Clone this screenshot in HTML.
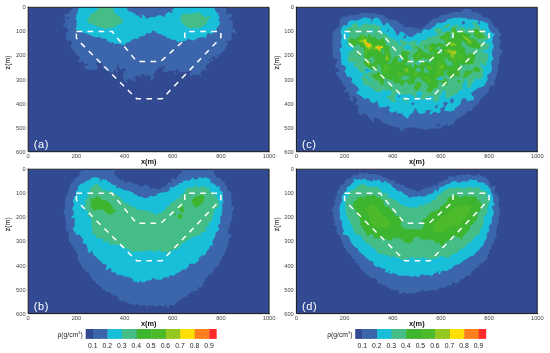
<!DOCTYPE html>
<html lang="en"><head><meta charset="utf-8"><title>Density inversion results</title>
<style>html,body{margin:0;padding:0;background:#fff;}body{width:550px;height:353px;overflow:hidden;}svg{display:block;}</style></head>
<body>
<svg width="550" height="353" viewBox="0 0 550 353" font-family="'Liberation Sans', sans-serif">
<rect width="550" height="353" fill="#ffffff"/>
<defs>
<clipPath id="cpa"><rect x="28.2" y="7.3" width="240.9" height="144.4"/></clipPath>
<clipPath id="cpc"><rect x="296.4" y="7.3" width="240.9" height="144.4"/></clipPath>
<clipPath id="cpb"><rect x="28.2" y="169.2" width="240.9" height="144.4"/></clipPath>
<clipPath id="cpd"><rect x="296.4" y="169.2" width="240.9" height="144.4"/></clipPath>
</defs>
<g clip-path="url(#cpa)">
<rect x="28.2" y="7.3" width="240.9" height="144.4" fill="#324a92"/>
<path fill="#3b66ab" fill-rule="evenodd" d="M189.2 5.3L187.8 5.3L223.4 5.3L227.9 5.3L226.6 5.3L225.2 5.3L226.5 5.3L226.0 5.3L225.6 5.3L225.4 5.3L225.9 5.3L226.4 5.5L226.3 6.8L226.8 7.8L226.6 9.3L226.0 10.8L226.8 12.2L226.9 12.6L226.9 13.0L225.9 13.8L225.3 14.7L225.3 14.8L225.3 14.9L225.4 14.8L227.2 14.5L227.5 14.7L227.6 14.3L229.4 13.7L230.6 13.5L232.9 14.6L231.8 16.6L231.7 16.9L229.6 19.0L228.6 19.3L229.6 20.4L230.7 20.4L233.0 20.0L232.6 21.3L232.6 24.0L232.6 24.1L232.7 24.2L233.1 25.8L232.5 27.4L232.0 28.0L231.8 29.1L232.9 28.6L234.9 29.0L235.3 30.2L236.2 32.2L236.4 33.0L236.1 33.2L235.6 33.4L234.4 33.1L233.0 32.5L232.1 31.5L230.5 32.9L232.3 34.2L232.2 34.8L232.1 35.2L231.3 37.0L231.7 38.5L231.7 39.4L231.8 40.2L230.6 40.1L229.3 40.8L228.4 40.8L227.6 41.1L226.1 42.1L227.4 42.8L227.7 44.4L227.1 45.6L225.6 46.2L225.8 48.5L225.8 48.6L225.7 48.6L224.3 49.3L224.1 50.3L223.2 51.6L221.5 52.7L221.6 54.2L220.1 54.1L219.6 54.6L217.1 55.8L216.8 55.8L216.2 55.9L216.6 56.6L217.1 56.2L219.2 55.8L218.6 57.3L218.4 57.6L218.0 57.8L215.8 58.5L215.5 58.5L214.9 57.9L214.6 56.0L212.6 56.2L211.2 57.7L210.7 57.5L210.8 58.2L209.3 59.4L207.6 59.5L209.0 60.5L210.4 61.7L210.9 59.9L211.2 58.5L212.7 58.4L213.0 59.7L212.3 60.5L210.6 62.0L210.6 62.1L210.4 62.2L208.6 63.1L207.2 64.4L206.7 64.9L205.5 66.6L205.4 67.3L206.0 69.0L206.2 70.7L207.7 70.0L208.3 70.2L208.3 70.6L208.0 70.7L206.1 71.0L205.8 71.5L205.8 70.9L203.8 70.0L201.8 68.7L201.6 71.3L201.0 72.6L199.7 73.3L201.2 74.8L201.6 75.9L200.9 76.4L200.3 76.5L199.6 75.9L198.5 74.0L197.4 75.0L195.1 75.3L193.7 73.8L192.2 75.4L192.0 75.4L191.8 75.4L190.4 75.7L189.8 75.6L189.8 75.0L189.8 74.6L190.5 73.1L190.6 72.5L191.6 71.7L190.3 71.1L189.4 70.8L188.4 71.4L187.3 71.6L186.7 72.2L185.7 72.4L183.7 72.1L182.7 71.7L182.7 71.4L182.3 71.4L182.4 71.7L180.8 72.5L179.5 71.9L178.8 71.2L178.2 69.5L176.2 69.7L175.4 70.4L174.0 70.8L172.4 70.9L172.3 71.0L169.2 70.7L168.3 70.7L167.9 71.7L167.2 72.0L166.6 72.0L164.4 71.8L163.3 71.9L162.6 71.0L163.0 69.6L164.2 69.0L164.5 67.7L165.4 66.2L163.7 65.5L163.2 65.5L162.7 66.1L162.6 68.4L161.5 67.0L159.1 66.8L158.2 68.5L157.6 69.4L155.9 70.9L154.9 68.6L155.4 71.4L155.0 72.6L154.5 74.0L154.5 74.3L153.4 74.8L153.1 74.9L151.1 76.3L148.2 75.4L145.6 76.0L145.4 76.0L145.2 75.9L143.7 74.0L142.3 73.5L141.0 75.7L141.5 76.9L139.5 76.4L138.6 74.9L138.9 74.2L138.5 74.9L136.0 76.4L133.1 76.1L133.1 76.0L133.1 76.1L134.5 77.5L135.4 79.0L135.7 80.0L135.4 81.6L134.0 81.3L132.9 80.4L132.7 79.8L132.0 79.4L130.8 79.3L129.8 79.2L128.0 79.1L127.0 79.5L126.0 80.1L126.9 81.0L127.8 81.9L126.1 82.4L125.6 82.6L124.7 81.8L124.0 80.1L123.7 79.8L123.4 78.1L123.3 77.7L123.2 77.0L123.2 75.4L123.4 73.5L123.4 73.3L123.5 73.1L124.6 71.3L124.5 70.9L125.0 70.9L126.4 69.6L126.8 69.3L126.3 69.1L126.1 69.0L123.9 68.2L122.5 67.2L122.9 68.8L121.7 69.9L121.1 69.7L119.9 69.3L119.3 67.1L116.9 67.0L118.6 65.0L119.3 64.7L118.0 64.3L117.8 64.1L117.2 64.3L116.8 67.0L116.8 67.1L116.2 69.3L115.7 69.4L114.0 70.6L113.8 71.5L112.8 72.7L111.2 72.8L109.7 72.1L109.5 71.5L108.6 71.5L107.0 69.7L106.2 71.2L105.2 70.0L103.8 68.9L102.8 67.6L101.9 66.6L102.8 65.2L103.0 64.4L101.8 63.0L99.9 63.6L99.0 63.2L96.5 62.9L95.9 64.3L97.7 65.3L97.4 66.2L97.4 68.5L96.8 69.5L95.7 70.6L94.8 69.8L92.7 70.0L91.6 70.1L89.6 69.6L89.4 69.6L87.0 69.5L86.5 69.8L85.7 68.9L85.1 68.4L84.2 66.8L84.4 65.5L86.6 65.1L87.7 65.9L88.2 64.6L87.6 63.7L86.6 64.0L84.7 64.1L83.6 62.2L83.3 61.6L82.6 61.4L81.8 61.8L80.8 61.9L80.5 61.7L78.3 62.1L78.1 62.2L77.9 61.8L78.1 61.7L79.3 59.3L79.2 59.1L80.1 58.2L79.0 55.9L77.5 55.4L77.1 55.1L76.2 54.0L75.3 53.4L75.7 52.9L74.1 51.4L73.5 50.9L73.6 49.8L72.2 49.6L71.4 48.5L70.8 46.8L70.6 46.2L70.7 45.6L71.8 43.9L72.3 42.6L73.8 41.9L74.1 41.7L74.1 41.6L74.0 41.5L73.9 41.4L72.1 41.7L71.7 41.6L70.4 40.7L68.5 40.3L66.7 42.1L67.4 39.6L66.0 38.4L65.7 37.3L65.8 35.9L66.6 34.7L65.9 33.2L65.2 32.4L65.9 32.5L66.5 32.2L68.0 32.1L68.2 30.7L67.9 30.3L66.9 28.6L66.9 28.5L66.0 27.6L64.5 27.3L64.5 26.2L63.4 25.6L62.8 24.1L63.7 23.5L65.3 22.3L65.1 24.4L65.1 26.0L66.3 24.8L66.2 24.3L65.7 22.1L65.8 21.9L65.6 21.9L64.5 19.3L64.4 19.1L64.3 19.0L64.4 19.0L64.5 18.4L64.7 17.2L67.6 18.4L68.4 19.7L68.5 17.6L68.6 16.8L67.3 16.7L64.7 17.1L64.7 14.7L66.0 14.0L66.8 14.0L68.5 13.5L69.0 12.5L69.9 11.0L71.3 10.2L71.5 10.0L71.7 9.7L73.3 7.8L73.6 7.6L73.4 7.2L72.5 6.9L71.0 6.6L68.6 5.9L68.5 5.9L68.5 5.7L68.6 5.8L71.0 5.4L71.9 5.3L71.6 5.3L70.9 5.3L72.4 5.3L72.8 5.3L70.8 5.3L68.1 5.3L67.6 5.3L81.8 5.3L115.2 5.3ZM201.1 64.9L201.4 64.6L201.3 64.2L200.8 64.5L200.6 64.6L200.7 65.4ZM126.2 73.6L126.4 73.5L126.2 73.3L125.4 72.3L125.0 73.4L126.1 73.5ZM176.1 72.8L176.4 73.6L175.9 74.2L175.2 74.9L173.8 72.9L174.7 72.1ZM151.1 76.3L153.1 75.0L154.0 77.9L152.9 78.7L151.2 80.5L150.4 77.9ZM223.2 7.4L222.8 5.5L222.6 5.4L222.5 5.4L222.5 5.5L223.1 7.4L223.2 7.5ZM117.1 75.3L116.7 74.3L117.4 75.0L117.5 75.3L117.6 76.3L117.2 75.4ZM117.9 70.1L118.2 70.7L118.1 71.6L116.5 73.2L115.9 71.2L116.4 69.5ZM195.5 71.0L195.4 71.3L193.9 71.7L194.5 72.1L195.5 72.0L195.8 71.6Z"/>
<path fill="#19bfd9" fill-rule="evenodd" d="M146.1 5.3L144.6 5.3L129.6 5.3L127.6 5.3L126.4 5.3L126.8 5.3L127.0 5.3L126.4 5.3L126.5 5.6L126.5 6.0L127.1 8.0L127.0 8.6L127.9 10.6L128.6 11.2L129.3 11.4L131.4 11.4L132.0 12.4L132.4 12.9L133.4 12.9L135.3 13.4L135.8 15.4L135.2 16.5L135.2 16.6L135.3 16.6L135.4 16.6L136.2 15.6L139.1 15.5L139.9 16.9L139.8 18.0L141.6 18.0L142.1 17.0L142.0 15.4L141.5 15.0L141.7 14.6L142.5 14.2L142.5 14.9L144.1 15.5L145.1 16.0L145.0 17.3L145.8 18.3L146.9 18.5L147.9 18.2L148.8 18.0L150.5 17.0L150.8 17.1L153.2 17.1L154.1 17.3L154.9 16.9L155.7 16.8L156.4 16.2L157.5 15.3L159.8 15.2L160.3 15.5L162.2 15.6L163.3 17.3L163.8 17.5L164.0 17.3L164.1 17.3L164.8 15.8L164.9 15.4L166.8 13.0L167.9 12.8L168.4 11.8L169.5 11.8L170.0 12.5L171.5 12.9L172.3 12.7L172.4 12.0L172.3 10.2L171.9 9.9L172.3 9.4L173.8 8.5L174.5 7.9L174.6 7.9L176.3 5.8L176.5 5.6L176.3 5.3L175.4 5.3L175.8 5.3L174.4 5.3L175.6 5.3L176.1 5.3L177.4 5.3L173.5 5.3L207.6 5.3L215.6 5.3L215.4 5.3L215.2 5.3L214.0 5.3L214.3 5.3L214.3 5.7L214.6 5.9L214.7 8.4L214.8 9.9L215.4 10.6L216.0 11.8L216.4 12.3L218.5 13.6L218.3 14.5L218.7 16.6L220.3 17.1L218.9 18.7L218.6 19.5L218.9 21.2L219.9 21.8L220.1 24.0L220.1 24.1L219.4 24.8L218.4 26.0L216.5 28.1L216.4 28.3L216.4 28.7L216.6 30.4L216.2 30.9L215.0 31.1L214.8 30.2L213.6 29.9L213.1 29.9L213.0 30.4L213.3 31.8L212.7 33.3L212.7 33.8L212.0 34.2L210.0 33.9L208.9 32.9L207.4 33.6L206.5 35.5L206.2 37.7L204.7 37.5L204.6 37.5L201.7 37.3L201.0 37.5L199.6 37.4L198.9 37.9L198.4 37.8L196.7 38.4L196.0 39.2L195.7 39.5L195.4 39.4L193.1 40.5L192.2 40.6L191.5 39.9L190.6 39.7L188.1 39.1L188.6 38.0L187.7 39.0L187.5 39.2L185.6 41.0L183.5 41.1L182.8 41.4L180.3 41.2L179.9 41.1L179.8 41.3L179.1 42.3L177.8 42.7L177.1 41.7L176.8 41.0L174.7 39.8L173.7 39.6L172.1 40.3L172.0 40.2L169.7 38.3L168.3 38.3L167.0 38.2L166.4 37.2L165.9 36.2L164.6 35.8L163.8 36.1L161.9 34.6L161.5 34.3L161.1 34.3L159.6 34.0L157.3 33.3L157.0 33.3L156.8 33.1L155.4 31.4L154.8 31.0L153.5 30.7L153.1 30.4L152.2 30.8L151.4 32.0L151.3 32.5L150.1 33.7L149.4 33.5L147.5 32.9L147.4 32.7L147.2 32.9L146.7 33.0L145.5 34.5L145.3 35.3L143.5 36.0L141.9 36.2L140.6 36.3L139.9 36.4L139.3 36.7L138.7 37.0L138.4 38.9L135.5 38.4L134.3 38.7L132.6 39.5L132.5 39.4L132.2 39.5L131.0 40.7L130.1 41.7L128.9 42.0L128.2 42.4L126.6 42.4L125.7 44.1L124.8 44.7L123.8 44.8L122.2 44.8L121.1 45.1L120.6 44.1L119.6 44.0L119.0 43.9L117.2 43.4L116.2 43.1L115.1 44.2L115.0 44.4L114.9 44.3L114.2 44.1L114.1 43.5L112.9 42.1L112.8 42.0L112.6 41.9L112.3 41.9L111.7 42.9L110.4 42.3L108.4 41.5L107.6 41.5L106.8 39.3L106.5 39.0L105.0 38.4L103.0 38.5L101.8 38.9L100.0 36.8L99.9 36.6L99.7 36.6L97.4 37.4L97.3 37.4L95.0 37.3L94.6 37.0L93.0 36.2L92.1 35.9L91.3 35.6L90.2 35.2L89.6 34.8L89.1 34.6L88.3 34.1L86.9 33.7L84.3 33.2L84.0 33.2L82.0 32.1L81.1 31.5L79.8 32.1L78.5 30.6L78.1 29.7L77.2 30.0L75.9 29.9L75.6 28.5L76.1 27.7L76.8 26.3L76.5 24.7L76.3 23.5L76.8 22.6L76.9 21.4L76.5 20.4L75.8 19.3L75.8 17.6L76.9 16.6L75.9 15.5L75.8 15.1L76.2 14.9L77.9 12.6L77.7 12.1L77.8 10.3L78.6 8.5L78.8 8.0L80.2 6.9L81.0 6.0L80.4 5.3L80.3 5.3L80.5 5.3L80.0 5.3L79.2 5.3L81.0 5.3L81.2 5.3L81.0 5.3L80.8 5.3L81.8 5.3L115.2 5.3ZM142.1 33.1L142.0 33.0L141.9 33.2L141.5 34.0L142.2 33.6L142.9 33.1Z"/>
<path fill="#44bd86" fill-rule="evenodd" d="M93.2 12.9L93.7 12.6L95.0 12.2L95.8 11.4L96.4 10.6L97.0 9.5L97.9 8.7L98.7 7.9L98.9 7.5L99.0 6.9L99.3 5.9L99.4 5.3L99.8 5.3L99.9 5.3L98.4 5.3L98.1 5.3L106.8 5.3L108.1 5.3L112.3 5.3L112.8 5.3L113.1 5.3L113.0 5.3L112.9 5.3L112.6 6.3L112.9 7.9L112.8 8.6L113.3 9.5L113.8 9.9L114.0 12.0L114.1 12.4L114.3 12.6L116.1 14.2L117.5 15.2L118.4 15.9L120.2 17.0L120.3 17.2L120.4 17.2L121.2 19.0L121.4 19.3L122.9 20.8L123.2 21.2L122.8 22.0L121.7 23.5L121.4 24.1L120.4 24.5L117.8 23.9L117.2 25.8L117.1 25.9L117.0 25.9L114.7 26.9L113.9 27.2L111.8 28.1L110.9 28.3L110.5 28.2L108.5 28.0L107.9 28.5L105.6 29.2L104.7 28.8L103.1 28.3L102.9 28.0L102.6 28.1L101.3 26.9L98.9 27.0L98.1 27.0L96.7 26.3L96.4 26.1L96.0 25.8L94.2 24.8L92.7 24.6L91.8 24.4L91.0 23.9L90.5 23.7L90.1 23.6L88.0 22.8L88.0 21.8L87.0 19.4L86.9 19.1L87.0 19.0L87.2 18.9L89.1 18.7L89.1 16.9L90.4 14.9L91.0 14.5L91.1 13.5ZM199.1 12.7L199.8 13.1L199.9 13.1L200.0 13.2L201.5 14.3L201.8 14.8L203.9 16.0L204.6 16.8L204.9 17.6L205.6 17.4L205.8 16.9L208.0 16.6L209.5 16.1L210.1 16.2L210.2 16.3L210.3 16.5L210.3 16.8L209.9 17.6L209.1 18.8L208.5 19.5L207.4 20.8L206.4 22.0L207.0 24.1L207.4 24.1L207.0 24.3L207.0 24.4L206.8 24.5L204.5 24.4L203.5 26.5L202.9 26.7L202.3 27.0L201.3 26.8L199.6 27.9L199.5 28.0L199.3 28.0L196.4 28.6L195.9 29.0L195.8 28.5L194.7 28.0L192.8 27.2L192.3 28.6L191.8 28.7L191.3 29.0L190.8 28.5L188.7 27.7L188.0 27.4L186.7 26.9L185.0 26.0L185.1 24.9L184.0 25.2L183.1 24.3L182.5 23.7L181.5 22.0L181.3 21.5L180.8 19.7L180.4 19.0L180.7 18.4L180.6 17.3L181.1 15.6L182.0 14.9L182.7 13.9L183.7 14.6L185.4 13.8L186.7 13.5L188.7 13.7L189.3 13.8L191.2 14.6L191.8 14.2L193.2 13.2L195.5 12.7L196.1 12.7L197.9 12.2Z"/>
</g>
<polygon points="76.4,31.4 112.5,31.4 113.0,32.8 136.6,61.4 160.7,61.4 184.8,39.8 184.8,31.4 220.9,31.4 220.9,37.6 162.1,98.8 136.6,98.8 77.1,39.3 76.4,37.6" fill="none" stroke="#ffffff" stroke-width="1.5" stroke-dasharray="5.65 5.42" stroke-linejoin="round"/>
<path d="M28.2 6.8 V151.7 H269.6" fill="none" stroke="#111" stroke-width="1"/>
<path d="M27.7 7.3 H269.1 V152.2" fill="none" stroke="#111" stroke-width="0.9"/>
<text x="25.6" y="9.3" font-size="5.7" fill="#444" text-anchor="end">0</text>
<text x="25.6" y="33.4" font-size="5.7" fill="#444" text-anchor="end">100</text>
<text x="25.6" y="57.4" font-size="5.7" fill="#444" text-anchor="end">200</text>
<text x="25.6" y="81.5" font-size="5.7" fill="#444" text-anchor="end">300</text>
<text x="25.6" y="105.6" font-size="5.7" fill="#444" text-anchor="end">400</text>
<text x="25.6" y="129.6" font-size="5.7" fill="#444" text-anchor="end">500</text>
<text x="25.6" y="153.7" font-size="5.7" fill="#444" text-anchor="end">600</text>
<text x="28.2" y="158.3" font-size="5.7" fill="#444" text-anchor="middle">0</text>
<text x="76.4" y="158.3" font-size="5.7" fill="#444" text-anchor="middle">200</text>
<text x="124.6" y="158.3" font-size="5.7" fill="#444" text-anchor="middle">400</text>
<text x="172.7" y="158.3" font-size="5.7" fill="#444" text-anchor="middle">600</text>
<text x="220.9" y="158.3" font-size="5.7" fill="#444" text-anchor="middle">800</text>
<text x="269.1" y="158.3" font-size="5.7" fill="#444" text-anchor="middle">1000</text>
<text x="148.7" y="164.2" font-size="7.4" font-weight="bold" fill="#111" text-anchor="middle">x(m)</text>
<text transform="translate(10.3 62.3) rotate(-90)" font-size="6.7" fill="#1a1a1a" stroke="#1a1a1a" stroke-width="0.12" letter-spacing="0.2" text-anchor="middle">z(m)</text>
<text x="33.8" y="147.8" font-size="11.0" fill="#ffffff" letter-spacing="0.55">(a)</text>
<g clip-path="url(#cpc)">
<rect x="296.4" y="7.3" width="240.9" height="144.4" fill="#324a92"/>
<path fill="#3b66ab" fill-rule="evenodd" d="M394.5 19.8L397.1 20.9L399.3 23.0L399.4 23.0L403.6 24.4L403.6 26.5L405.4 26.9L406.3 27.3L410.4 26.8L411.0 26.7L413.5 27.7L414.1 27.8L417.5 27.9L419.4 29.3L420.4 29.2L423.5 26.8L425.4 26.0L425.5 25.8L426.5 24.7L428.3 23.0L428.6 22.8L431.9 20.0L433.1 18.7L436.0 18.3L437.4 18.2L440.4 15.5L441.6 14.3L442.1 14.5L444.3 15.1L448.5 13.6L449.1 13.3L451.8 12.8L452.2 12.6L455.2 11.5L455.9 11.7L461.1 12.0L461.4 12.0L462.7 11.3L462.6 10.7L463.4 9.6L463.9 9.5L465.2 8.6L466.5 8.9L470.2 8.9L470.7 8.8L471.9 10.7L470.9 11.7L472.5 11.8L472.9 11.8L477.0 12.3L478.4 13.4L480.2 14.0L481.6 16.1L483.0 16.9L483.6 17.3L486.9 17.2L488.9 19.3L490.4 19.6L492.4 23.5L493.1 23.1L492.9 24.0L494.3 26.5L498.4 29.0L499.2 31.2L499.8 32.5L501.4 35.1L499.2 37.4L498.5 37.9L499.4 40.5L501.0 39.6L501.8 38.7L501.9 39.8L501.9 40.3L501.8 40.6L500.5 42.8L499.9 43.6L499.4 45.9L499.1 47.8L499.1 48.2L498.8 48.7L499.6 48.9L502.2 49.2L502.2 52.8L500.8 54.2L499.8 56.1L499.5 57.7L499.4 60.3L499.1 60.9L499.4 61.8L499.6 63.0L499.4 63.6L497.8 65.8L498.1 69.6L498.2 70.5L496.8 74.2L496.5 74.7L496.0 76.3L495.9 77.8L495.0 79.2L494.0 80.8L494.6 82.1L495.1 83.8L494.1 85.4L492.6 85.7L489.8 87.1L489.0 88.4L489.0 91.1L488.7 91.5L486.5 94.2L483.3 96.6L482.8 96.9L482.6 97.0L481.8 98.5L480.8 99.0L479.3 101.7L479.3 103.1L476.2 105.4L473.7 107.5L473.0 107.8L472.0 110.5L472.0 111.0L471.5 111.0L468.0 110.6L465.9 113.6L465.3 114.3L463.9 115.1L461.8 116.3L457.9 118.8L457.5 119.0L457.2 119.1L454.9 119.6L455.5 120.4L454.3 123.5L451.9 124.6L450.0 125.1L448.1 126.4L447.6 125.3L448.0 124.0L446.5 124.9L444.3 125.4L443.5 125.8L442.7 126.0L440.2 128.5L438.9 128.4L438.3 128.4L435.3 128.5L434.4 129.1L432.4 128.5L431.4 128.4L428.5 129.0L426.4 130.2L422.7 128.7L421.5 128.6L419.1 129.2L418.3 128.3L415.0 128.0L413.8 127.6L412.8 127.8L409.9 127.2L408.6 127.6L406.8 128.1L404.8 128.8L402.4 130.7L401.6 131.6L400.3 130.8L399.1 128.1L399.2 127.7L398.7 126.8L398.2 127.5L393.9 126.7L392.1 126.1L391.8 126.1L389.1 124.7L386.3 123.6L386.0 123.6L383.9 123.6L382.6 122.3L381.5 120.8L378.5 118.8L378.4 118.7L378.1 118.7L374.9 117.5L373.8 117.7L373.0 118.4L373.9 120.2L374.2 121.2L373.7 122.0L373.3 122.1L373.1 121.8L372.9 121.7L372.7 121.4L369.7 118.7L366.9 114.8L366.1 114.9L365.0 113.5L362.5 113.3L362.5 115.0L358.5 114.2L358.4 114.1L358.3 110.9L357.9 110.7L357.9 110.3L358.5 106.5L356.7 104.8L354.6 103.9L357.1 101.5L357.2 99.0L356.4 97.9L352.3 95.5L353.4 99.3L352.2 102.4L351.1 100.6L350.2 100.2L349.1 98.1L351.4 95.6L348.6 96.0L348.5 92.4L347.6 91.6L345.3 92.2L344.1 92.6L343.9 92.3L343.8 91.9L344.1 91.9L346.2 88.8L345.1 85.9L343.9 85.9L343.7 85.8L341.5 81.6L340.8 79.9L339.0 78.3L338.3 76.9L337.3 76.1L336.3 74.7L335.9 72.1L337.2 72.0L339.1 72.1L339.2 70.6L338.7 69.1L337.1 68.0L335.7 69.8L335.2 66.6L335.7 63.7L336.2 62.1L337.5 60.4L337.2 59.8L336.3 58.8L333.7 58.3L332.7 56.0L332.3 52.8L332.5 51.9L332.5 51.1L333.3 48.7L332.1 45.4L332.3 44.3L332.3 42.2L332.8 40.2L332.6 39.3L332.3 38.2L332.3 37.2L332.2 34.9L333.6 31.9L334.2 30.5L337.6 28.1L338.0 28.0L338.4 27.2L339.5 26.1L339.9 24.1L339.7 21.7L339.3 20.2L341.3 17.6L344.2 16.0L346.8 17.2L347.4 15.7L349.4 15.3L350.5 15.4L354.3 15.0L354.6 14.3L355.2 14.8L357.9 15.2L359.8 13.3L363.5 13.0L364.6 12.8L368.2 12.9L369.5 13.6L371.1 13.3L373.1 12.8L376.9 14.0L377.6 14.1L381.4 15.0L382.7 14.7L383.6 15.1L384.0 15.6L385.0 16.7L386.9 18.4L387.9 18.7L388.6 19.2L393.7 19.7ZM436.2 124.2L436.8 125.5L438.4 125.8L441.3 124.8L438.2 123.4L437.8 123.3Z"/>
<path fill="#19bfd9" fill-rule="evenodd" d="M387.9 31.9L388.5 31.6L388.4 31.0L388.7 28.6L387.2 30.2L387.1 31.3L387.5 31.5ZM395.7 32.6L396.8 35.3L398.1 35.2L398.8 34.4L400.1 31.8L402.6 31.7L405.9 34.6L403.5 36.7L402.9 37.6L404.1 38.6L404.8 38.6L405.3 38.3L406.6 34.9L409.5 36.9L412.7 36.5L412.7 36.6L412.8 36.5L414.1 35.3L414.3 35.2L418.2 32.6L419.0 32.9L421.3 33.5L422.1 30.9L424.0 29.4L425.0 29.0L428.7 30.0L430.6 29.3L432.0 27.5L434.2 26.5L435.0 25.7L436.3 23.9L436.9 23.0L438.2 22.8L439.7 23.2L442.2 22.9L442.7 22.7L442.9 22.5L443.5 22.3L446.1 21.8L446.7 20.0L449.5 18.8L452.1 18.2L452.7 17.9L454.2 17.5L457.6 17.9L459.7 17.6L461.3 17.7L464.4 18.2L466.0 17.7L467.1 18.7L468.2 20.0L468.9 19.1L472.0 19.4L472.9 19.3L478.4 20.6L478.0 23.6L478.2 24.1L479.4 24.2L479.6 23.6L479.6 21.0L482.7 21.0L484.2 22.1L487.3 23.5L487.9 23.6L488.0 24.0L488.3 24.6L488.1 26.7L489.6 29.5L489.6 30.2L491.3 32.2L493.7 33.8L494.6 34.3L494.9 34.9L494.3 35.3L492.9 36.6L492.7 38.9L492.0 42.0L492.7 42.9L493.0 44.2L493.7 45.0L493.7 46.7L493.6 48.8L492.5 49.3L492.0 53.4L492.0 54.1L492.3 56.5L492.9 57.4L493.9 58.5L493.0 59.8L491.2 62.0L492.0 67.3L492.0 67.5L491.7 70.8L490.0 73.3L487.2 75.0L486.9 75.2L487.7 77.7L487.6 79.8L486.9 80.9L485.1 84.0L484.3 85.8L482.3 86.8L480.6 87.4L478.1 87.8L476.4 89.3L476.5 89.8L475.4 90.1L472.2 92.2L471.1 92.6L471.5 94.3L472.2 95.7L473.8 97.1L474.0 98.6L473.5 100.1L472.1 100.0L469.3 100.7L467.2 101.5L466.6 99.3L464.6 97.9L464.1 97.8L462.7 98.7L460.9 101.1L460.6 104.0L459.6 104.5L458.7 106.1L455.6 107.5L454.4 110.3L454.3 110.3L453.3 110.6L450.5 111.5L450.4 111.2L449.5 111.4L445.6 110.8L444.8 110.8L444.5 110.4L444.8 107.7L445.5 106.3L447.4 104.2L448.9 103.7L445.4 101.8L444.9 101.7L443.2 102.9L444.3 106.1L443.6 106.6L439.9 108.8L440.8 110.3L439.6 113.2L435.9 112.5L434.8 111.5L431.6 113.8L431.1 114.7L430.3 114.5L429.6 113.7L429.7 112.3L431.8 110.5L429.2 110.1L428.2 110.0L426.6 110.0L425.7 110.8L425.1 113.3L421.8 114.0L418.6 113.4L416.4 109.9L416.6 109.1L415.7 108.7L414.4 107.8L414.5 109.5L413.0 112.7L411.2 113.8L410.5 114.2L409.2 116.0L407.9 118.4L407.7 118.7L407.5 118.7L407.1 118.4L405.3 117.1L402.6 114.8L402.5 112.9L400.3 113.6L397.0 113.2L396.0 111.1L393.8 112.0L392.0 113.1L390.2 111.8L388.4 110.0L390.0 108.0L390.2 107.6L390.0 107.0L388.7 106.3L385.4 106.7L385.2 107.6L383.9 107.1L381.5 107.5L379.2 107.2L378.9 106.0L378.1 104.3L377.1 100.8L377.0 100.7L377.0 100.5L376.8 100.4L376.8 100.8L373.9 103.4L371.2 102.2L369.7 100.3L368.7 98.4L367.5 98.0L364.6 99.2L363.8 98.6L361.1 96.0L360.0 95.4L357.8 93.8L356.6 93.8L356.4 93.5L356.2 93.4L356.2 92.6L357.1 92.2L358.4 90.3L360.0 89.7L358.5 88.8L356.6 86.1L356.6 86.0L356.5 85.9L353.5 83.7L351.0 82.0L352.2 80.1L352.0 78.6L351.1 77.2L349.2 76.8L347.1 76.9L346.6 74.9L345.7 73.3L344.4 71.1L345.6 68.7L346.2 67.3L345.3 66.4L343.4 64.9L341.6 65.1L341.5 62.8L341.0 61.4L341.5 59.3L340.6 57.8L341.1 55.0L341.0 53.2L340.4 52.5L339.7 50.5L339.9 48.5L341.9 46.8L341.7 45.3L341.1 43.7L340.8 40.7L341.7 37.8L342.3 36.8L342.1 35.9L341.2 34.6L340.7 31.7L340.6 30.5L343.1 25.6L345.4 25.5L347.4 25.3L348.1 21.9L349.3 21.3L351.0 20.5L351.9 20.0L354.5 20.7L357.1 20.2L358.7 20.3L359.1 20.0L360.9 19.1L363.0 17.8L364.6 17.2L367.9 17.9L369.4 18.4L371.8 19.5L370.9 21.6L371.1 22.4L371.5 22.6L371.9 22.3L372.5 19.8L372.6 19.5L375.4 17.5L376.8 17.6L380.1 19.5L379.8 20.9L381.1 20.5L382.5 24.8L384.6 25.4L387.2 22.0L387.4 22.3L389.7 25.5L390.6 25.6L390.6 26.4L392.9 28.1L394.8 31.2L395.3 31.9ZM440.7 78.8L440.6 78.9L440.6 79.0L440.7 79.0L440.9 79.0L440.9 78.8L440.8 78.8ZM357.7 73.7L357.8 73.6L357.7 73.6L357.7 73.5L357.6 73.5L357.5 73.7ZM366.4 69.8L366.4 71.0L367.5 70.5L368.6 70.0L367.3 69.3L366.9 69.0ZM451.3 98.7L450.1 99.7L450.7 103.8L453.9 102.0L453.6 99.9L452.7 98.3ZM411.7 103.6L411.9 105.2L413.2 105.0L414.5 103.9L413.8 102.6L411.9 102.8ZM461.9 21.3L462.1 23.5L462.6 24.5L463.8 24.6L465.1 23.7L464.3 21.0ZM434.9 107.2L435.0 109.2L436.1 107.6L437.9 107.5L437.7 104.7L435.2 106.0ZM399.5 96.4L400.7 96.0L399.2 95.4L398.7 95.2L398.2 95.8L398.2 97.2Z"/>
<path fill="#44bd86" fill-rule="evenodd" d="M396.6 41.4L399.3 43.9L398.6 45.6L400.6 44.9L402.5 45.2L401.0 43.2L398.6 40.7L400.6 38.9L403.0 40.9L405.7 40.8L407.4 43.1L408.7 42.8L410.8 41.7L411.2 41.4L415.1 40.4L417.4 41.2L416.4 42.9L415.5 44.2L417.7 44.6L418.8 44.3L420.1 42.0L422.3 40.3L422.4 40.2L422.6 40.1L425.6 40.0L426.8 38.5L427.3 37.5L428.5 37.5L432.3 36.7L434.2 35.6L436.3 35.7L437.8 34.6L437.1 33.4L433.7 29.8L436.9 28.1L439.2 27.6L441.0 29.0L443.1 27.5L443.4 27.4L446.2 24.6L447.4 24.3L450.6 23.7L450.0 25.5L448.7 27.8L445.8 28.5L443.6 28.0L441.7 29.5L442.5 32.0L444.4 31.9L445.0 31.1L449.5 30.5L450.7 32.1L450.2 30.1L452.2 26.1L453.6 25.8L455.4 25.0L457.4 24.3L459.9 26.8L456.5 27.9L457.0 29.2L457.2 29.7L457.9 29.7L458.0 29.1L460.6 27.0L463.2 27.0L467.0 30.4L467.2 30.5L467.4 30.6L468.0 30.3L467.5 29.2L467.5 26.8L467.8 26.6L468.5 27.1L470.2 29.5L472.4 28.4L474.8 27.2L473.6 25.6L472.6 22.3L474.8 21.9L476.7 22.4L476.6 23.4L477.7 26.1L479.9 26.3L480.2 29.2L484.0 29.6L484.9 30.3L485.4 31.1L485.7 33.1L485.9 34.1L486.2 34.4L486.6 35.2L488.7 37.1L488.8 38.2L488.3 39.7L485.9 40.4L484.6 40.8L482.1 41.4L484.0 42.6L487.3 43.4L489.5 43.9L489.9 44.4L490.0 44.9L489.7 45.8L487.2 48.8L486.6 50.0L484.1 50.1L482.1 50.6L481.9 50.9L481.9 51.4L482.1 53.0L482.7 51.4L486.9 53.4L489.0 54.1L488.2 56.0L487.9 57.9L488.0 60.0L485.8 63.2L486.5 65.5L483.9 65.5L481.3 63.5L480.9 63.0L480.4 62.8L480.1 63.5L480.1 63.7L481.8 66.9L482.6 68.0L483.7 69.8L483.4 71.2L483.2 73.8L482.8 75.2L482.9 75.7L482.6 76.1L482.2 78.4L479.4 79.3L477.4 78.8L476.5 78.6L473.9 78.4L474.1 80.5L472.0 83.4L471.3 84.6L470.0 88.4L470.0 88.6L469.9 88.6L469.8 88.6L467.4 87.1L466.5 84.4L467.0 82.8L466.6 80.6L466.8 79.1L466.3 78.5L466.0 78.6L465.5 78.8L465.7 79.0L463.5 83.2L462.2 84.3L463.2 89.3L462.6 89.5L459.1 90.1L458.4 91.7L457.8 92.9L454.0 95.2L453.1 94.7L452.8 96.0L449.9 96.8L447.9 98.6L446.1 97.3L445.4 97.1L445.3 96.7L445.6 96.4L446.4 92.6L444.2 90.7L441.9 89.9L442.2 92.7L440.7 95.3L438.8 94.9L439.4 98.7L441.3 99.0L439.3 99.7L439.1 99.6L437.0 101.4L434.3 102.3L432.9 100.1L433.1 97.1L432.4 95.7L428.4 96.6L427.5 96.4L427.3 96.8L426.1 97.6L421.8 100.5L421.7 100.5L421.7 100.4L420.5 96.6L422.2 94.2L423.0 92.4L418.9 91.0L418.2 92.0L416.4 92.5L416.6 96.2L417.5 97.1L416.7 97.9L415.8 98.0L413.1 96.1L412.8 95.3L411.7 94.8L410.3 93.5L407.7 94.4L405.0 94.2L402.4 95.2L400.0 94.3L397.6 93.0L395.3 95.6L394.9 95.9L394.3 96.2L395.0 96.6L395.7 99.7L397.2 101.8L394.4 101.9L393.4 102.4L389.1 99.1L388.6 98.8L387.9 98.8L387.1 96.9L387.1 96.0L391.5 94.8L391.6 91.5L390.2 90.2L388.1 90.2L386.0 90.7L383.3 89.3L382.5 90.0L381.4 92.0L376.4 91.9L375.2 91.7L373.7 89.6L371.9 88.8L371.2 88.0L368.7 86.2L365.5 85.3L364.2 85.3L362.9 84.9L363.9 83.5L363.4 82.0L362.6 80.1L361.2 79.7L361.7 78.3L362.1 77.4L363.8 74.6L362.5 72.2L360.2 71.8L359.3 70.6L358.3 69.4L356.5 67.3L354.1 67.1L353.9 67.2L353.7 67.1L353.4 65.8L354.6 64.1L355.3 62.7L355.2 62.0L355.1 61.8L355.0 61.9L352.1 62.8L351.6 62.5L348.0 62.0L348.2 59.8L347.5 57.2L348.8 56.5L348.2 53.1L348.5 52.4L348.7 51.9L351.6 51.2L352.6 51.3L353.2 47.6L351.7 46.7L350.2 46.0L349.2 47.2L347.8 45.6L347.6 41.7L346.9 40.5L347.3 39.7L346.9 36.9L348.8 36.6L350.3 34.7L348.9 33.3L345.6 29.3L348.9 27.5L350.7 27.0L352.2 24.7L352.9 23.7L357.0 23.0L358.6 26.6L358.8 27.5L359.5 27.7L360.2 27.7L360.7 26.8L362.5 24.6L367.0 23.2L367.1 23.4L367.6 23.4L371.3 25.6L373.2 24.1L375.1 24.2L376.5 25.7L379.7 25.6L379.9 25.6L381.2 31.0L382.3 32.4L385.1 33.8L385.4 34.0L385.6 34.1L387.4 35.5L390.2 37.8L390.3 37.9L390.5 38.0L394.6 39.8L396.2 41.1ZM418.2 63.4L419.7 63.3L420.4 62.4L419.5 61.1L418.6 61.3L417.2 62.6ZM418.1 69.9L417.7 70.3L418.3 70.9L419.1 71.1L419.2 70.4L419.0 69.7ZM426.2 88.6L426.2 88.5L426.1 88.5L426.1 88.6L426.0 88.9L426.2 88.7ZM376.4 85.3L376.5 84.7L376.3 84.3L375.3 83.7L375.3 84.7L375.4 85.4ZM370.7 82.1L368.7 86.2L371.3 82.2L371.7 82.0L371.3 81.7L368.1 77.0L367.7 76.5L365.6 75.4L365.5 77.8L366.9 78.0ZM439.4 77.8L438.1 78.9L439.1 79.9L440.6 79.8L442.6 80.0L442.2 77.7L441.4 77.1ZM386.7 80.8L386.6 81.0L386.6 81.2L387.0 81.3L387.1 81.0L386.9 80.9ZM364.9 70.1L364.8 74.2L368.6 72.5L372.4 71.1L367.9 68.4L366.5 67.6ZM407.6 102.7L407.5 103.1L407.6 103.4L407.2 103.5L406.4 102.9L404.8 99.8L402.4 100.9L401.9 100.7L401.5 99.8L401.8 99.6L402.6 99.3L405.4 98.8L406.0 98.7L406.2 99.4ZM411.6 47.6L407.9 44.1L407.3 44.2L403.6 46.4L404.4 49.1L405.3 49.3L406.0 49.5L410.9 49.8L411.2 50.2L412.6 49.9L411.5 49.1ZM372.0 33.1L374.4 30.3L370.0 29.0L368.2 30.5L368.8 31.8ZM401.6 59.6L400.6 59.1L399.5 59.2L399.0 60.1L399.7 61.3L400.8 61.2Z"/>
<path fill="#3db52e" fill-rule="evenodd" d="M433.7 53.1L429.2 52.6L428.1 47.8L429.3 44.8L432.3 43.8L433.0 42.2L433.9 43.4L436.8 44.5L438.7 42.8L440.2 43.2L443.0 44.0L444.9 45.4L445.0 45.5L445.1 45.4L445.5 45.5L445.1 45.4L445.2 42.2L444.9 41.7L443.3 39.3L440.6 39.6L440.2 37.0L441.3 36.1L443.2 35.7L444.2 34.9L444.7 34.5L446.7 32.1L449.3 31.8L450.8 34.0L450.1 36.5L449.4 37.6L449.4 38.7L451.0 38.9L452.3 38.6L452.7 37.8L453.9 34.3L452.2 33.5L451.4 30.5L452.8 27.8L455.0 27.2L456.0 29.9L457.1 32.3L460.5 32.6L461.4 29.3L461.5 29.4L465.2 33.5L469.9 34.0L470.2 33.8L471.6 34.4L470.1 36.0L469.1 38.0L469.6 38.3L469.8 38.6L470.6 38.6L474.2 38.4L476.8 40.0L477.1 42.4L477.5 43.7L479.6 42.9L481.4 44.5L480.6 46.9L478.3 49.1L477.8 48.3L473.4 48.2L473.2 48.3L470.6 46.9L470.1 47.4L466.3 44.7L465.7 42.9L464.1 41.8L461.1 41.2L461.3 43.8L462.2 46.4L464.7 47.8L465.0 48.6L465.2 52.1L466.3 54.1L469.1 54.9L469.5 53.3L471.9 53.3L475.4 52.3L475.0 56.3L474.9 58.0L475.0 58.1L475.1 59.1L474.5 59.7L473.3 63.3L472.7 64.0L469.6 64.1L467.2 65.0L465.4 64.1L464.2 65.2L461.1 64.0L460.4 64.1L458.9 62.0L459.8 63.9L460.1 64.7L461.9 67.6L459.4 69.6L459.1 69.7L459.5 70.0L460.1 74.0L459.8 76.9L457.5 76.3L454.9 76.1L453.8 78.0L452.5 78.7L450.8 78.5L449.6 77.5L448.1 75.7L446.2 73.5L448.0 69.3L448.0 69.2L450.9 66.6L451.4 66.8L451.1 66.4L453.0 64.5L452.3 62.4L450.8 60.7L448.8 60.9L447.4 58.8L446.1 57.9L444.1 56.5L444.8 59.2L444.9 59.7L445.7 63.3L446.3 64.3L446.8 65.1L450.8 66.5L448.0 69.1L447.9 69.2L444.5 71.8L444.4 73.3L443.2 76.3L442.0 75.5L438.2 76.8L435.6 79.0L437.5 80.8L440.5 80.7L444.2 81.0L443.7 77.8L446.4 79.0L447.4 81.3L447.7 85.1L443.8 85.0L441.0 81.8L440.3 81.2L438.2 83.1L438.1 84.4L437.7 87.2L437.7 87.6L437.4 87.7L436.1 87.9L434.1 88.2L433.7 88.1L433.8 88.4L430.9 92.6L427.0 92.1L427.4 88.4L428.0 86.5L429.0 85.6L427.8 84.9L426.5 83.2L424.5 82.6L423.7 81.2L421.1 79.6L420.1 78.1L419.5 76.1L418.3 77.5L416.5 78.1L415.1 79.7L414.9 80.7L414.3 83.8L410.2 84.7L409.1 84.9L407.5 82.0L404.2 82.2L403.1 85.0L403.4 86.0L402.0 85.9L401.7 85.3L399.2 82.6L396.0 84.0L395.2 83.2L392.7 81.2L393.9 77.5L391.6 80.6L388.8 79.2L384.5 77.9L384.0 80.6L383.8 84.1L387.1 85.2L383.9 84.7L383.6 84.5L381.3 84.9L380.6 85.7L380.7 84.5L379.6 81.4L379.3 81.2L374.8 79.0L372.6 77.5L373.1 76.1L370.3 74.5L374.3 74.1L377.1 72.9L377.5 70.9L379.0 72.3L381.0 73.4L381.9 73.7L382.2 74.0L382.3 73.5L382.0 73.2L381.1 70.6L381.0 68.7L379.6 65.7L379.1 64.3L377.3 64.9L377.0 66.1L377.3 70.2L374.3 69.8L371.0 69.0L368.4 67.5L366.4 66.4L366.2 66.3L366.2 66.2L363.3 62.0L364.5 60.3L364.9 59.0L363.9 57.1L364.2 54.3L363.5 52.7L363.7 47.9L363.8 47.8L363.7 47.8L363.7 47.7L363.3 47.3L359.7 47.2L359.8 44.7L358.3 44.0L356.4 44.8L356.0 46.4L353.8 45.1L353.0 44.7L350.7 43.8L348.8 40.6L350.0 38.4L352.2 38.4L354.2 39.2L355.9 39.1L357.2 37.5L358.3 37.3L361.1 35.0L361.1 34.6L364.6 35.2L364.8 36.3L368.0 37.0L368.4 33.8L368.4 33.3L368.6 33.6L368.8 33.7L370.5 36.6L374.2 37.5L375.3 36.3L375.8 38.4L379.5 39.9L383.9 37.5L383.8 37.3L384.0 37.5L384.6 40.5L385.8 42.2L384.8 42.7L385.6 44.1L387.8 46.5L389.3 45.9L390.1 48.9L388.8 49.2L389.4 51.0L390.0 52.3L391.4 58.7L391.5 58.9L388.6 63.6L387.6 63.1L388.1 63.9L388.4 64.1L389.0 64.2L390.9 62.9L392.5 60.8L392.8 58.8L395.1 56.5L397.4 56.4L398.2 56.1L400.7 55.7L402.0 51.4L402.0 50.5L403.7 50.8L408.5 52.1L409.3 52.2L409.9 52.8L409.5 53.9L407.2 55.3L408.6 59.2L409.9 60.4L410.2 63.6L407.5 61.9L405.2 63.8L405.3 64.9L406.8 64.9L410.5 64.3L412.0 67.0L412.3 67.9L413.8 67.9L414.1 66.6L414.3 63.3L413.7 63.4L414.3 63.2L414.9 59.8L413.4 57.6L412.1 55.7L412.4 54.6L413.7 54.7L416.2 52.0L418.4 51.3L417.1 47.9L413.5 48.5L413.1 48.2L413.1 47.7L416.7 46.8L417.5 47.0L418.2 46.8L418.6 47.5L421.5 49.3L423.4 51.5L423.3 52.1L424.1 51.9L428.6 53.7L430.3 54.4L432.6 54.3L434.1 53.9L434.4 53.4L434.2 50.6ZM438.6 49.8L440.5 52.8L440.9 54.3L443.0 54.8L441.8 52.4L442.2 51.6L441.1 48.9L440.5 46.4L437.9 46.5L435.2 48.4ZM360.0 54.5L360.4 56.1L358.3 56.1L358.4 55.1L358.8 53.0ZM353.6 59.9L353.9 59.4L354.7 59.3L355.3 59.4L354.7 60.2L354.2 60.3ZM416.8 65.2L420.1 64.9L421.8 62.7L419.8 59.9L424.2 61.3L425.3 62.2L428.6 62.1L430.0 64.1L430.7 64.2L431.9 66.4L431.0 64.2L430.9 63.9L430.9 60.7L430.7 57.9L429.5 59.3L425.4 59.1L423.3 58.1L419.9 59.5L419.7 59.8L419.6 59.8L417.7 60.1L414.3 63.3ZM416.7 68.1L415.2 69.6L417.4 71.8L420.0 72.5L420.5 70.0L419.8 67.6ZM425.5 45.2L426.4 44.7L427.0 45.5L426.5 46.5L424.4 49.9L424.4 46.9L424.7 45.8ZM368.6 41.3L368.8 41.3L369.1 41.5L370.1 41.7L369.2 39.8L368.5 41.1ZM424.7 72.9L426.9 72.8L430.1 72.6L428.7 70.5L426.6 69.6L426.3 67.0L426.2 65.6L425.5 66.2L424.8 66.8L425.0 67.6L423.6 70.0ZM434.3 82.3L434.5 82.1L434.6 82.0L434.6 81.8L434.3 81.7L434.4 82.0ZM350.6 30.5L350.2 30.1L349.7 29.6L350.2 29.4L350.7 29.2L352.3 29.7L351.4 30.7ZM481.9 33.8L484.3 36.2L485.1 37.9L483.8 38.3L482.2 38.7L479.1 38.4L478.1 38.6L476.4 37.2L474.8 36.7L473.6 34.1L473.8 31.6L473.7 30.5L473.9 30.4L474.4 30.1L477.2 28.3L478.7 30.5L481.5 33.3L481.2 33.8ZM469.6 71.4L472.5 69.6L473.4 69.0L473.9 68.6L474.8 67.2L478.1 67.0L480.1 69.5L479.4 72.0L475.0 72.0L473.7 70.1L471.9 72.7L471.2 73.6L469.9 74.0L468.0 76.0L465.9 77.1L462.1 78.1L464.3 73.4L465.1 71.1L467.7 70.1ZM370.9 63.4L370.3 64.6L372.2 64.2L374.5 61.3L374.7 60.8L375.0 60.4L374.7 59.9L373.3 57.0L373.2 55.8L372.0 56.8L369.6 58.3L367.0 59.6L370.1 60.4L370.8 63.0ZM384.4 52.4L383.7 50.3L382.6 48.7L381.5 48.8L381.3 48.8L381.3 49.0L382.6 52.7L381.7 53.8L384.5 54.5ZM404.9 59.0L403.7 57.6L402.9 57.7L401.1 56.8L398.3 57.0L397.1 59.3L398.8 62.4L401.5 62.1L403.3 58.5ZM400.7 77.3L400.7 79.8L402.7 79.3L404.1 80.8L407.2 79.7L409.8 78.1L410.5 78.1L410.5 77.7L410.3 77.2L409.7 77.1L406.3 75.5L403.6 75.6L402.2 76.3L401.7 77.2ZM389.1 88.2L390.2 86.3L391.1 86.9L391.5 88.1L392.4 90.5L390.1 88.2ZM417.8 90.1L416.1 90.5L414.1 88.7L414.8 85.2L414.8 84.9L416.8 81.8L420.3 82.2L421.9 84.9L419.5 87.6L419.3 87.8ZM457.4 80.0L459.1 79.9L461.0 82.0L458.4 82.2L457.3 82.0L457.0 80.7ZM369.8 51.1L369.8 51.2L369.7 51.5L370.3 51.4L369.9 51.1Z"/>
<path fill="#4dba2a" fill-rule="evenodd" d="M360.7 43.3L358.7 41.8L357.1 40.7L358.3 38.9L360.9 38.6L361.2 38.4L361.6 35.1L364.1 35.6L364.2 36.7L361.6 38.5L364.8 37.6L368.7 38.6L367.5 40.9L367.8 41.8L368.6 41.9L369.5 42.4L371.3 42.7L373.3 44.6L373.3 47.1L374.3 45.0L375.5 44.4L378.7 44.6L378.8 44.6L378.9 44.6L383.6 44.9L383.7 48.3L381.8 48.4L381.0 48.7L380.9 49.5L381.7 52.0L380.2 53.9L378.8 51.5L378.4 51.1L377.8 50.6L374.5 50.6L373.2 51.0L371.9 50.3L369.2 50.3L367.4 51.4L367.3 54.0L365.1 54.2L364.2 52.2L364.4 49.7L366.1 48.6L364.6 46.9L364.3 46.3L362.1 44.2L362.0 43.6ZM432.1 51.2L429.6 50.8L428.9 48.2L429.6 46.5L432.2 45.6L432.6 48.5ZM437.8 53.4L437.8 52.7L438.3 52.9L438.6 53.3L438.7 53.9L436.6 55.5ZM416.0 55.5L417.7 53.7L420.6 52.7L420.5 54.8L419.3 57.3L418.0 57.8ZM431.0 67.1L432.1 70.6L427.8 68.8L427.6 67.3L427.4 65.2L430.2 65.7ZM437.6 63.0L438.1 60.7L441.4 61.1L440.5 62.2L443.5 63.0L444.7 65.2L446.4 67.6L447.0 67.8L446.6 68.2L445.9 68.4L443.6 68.9L441.8 69.9L443.0 73.0L443.0 73.6L442.8 74.0L442.6 73.9L436.9 75.8L435.7 76.8L434.3 76.4L434.8 74.8L435.8 74.0L436.9 70.1L438.2 67.3L438.7 66.7L438.6 63.7ZM428.7 88.2L428.7 88.1L429.0 87.9L429.0 88.2L428.9 88.5L428.7 88.4ZM429.9 78.7L431.0 81.1L429.7 83.7L427.7 82.4L426.5 80.7L425.6 78.7L424.1 77.8L425.2 76.6L426.7 76.5L427.9 76.5ZM416.9 75.7L414.0 76.7L413.7 73.8L414.6 70.8L416.5 72.6L419.0 73.4ZM434.1 83.7L435.4 82.7L435.3 84.4L435.1 85.4L434.0 85.6L432.3 84.9ZM443.8 52.0L444.3 50.7L444.9 49.9L448.5 47.7L451.0 48.6L451.4 48.7L452.1 48.7L455.7 49.6L458.0 52.8L455.9 54.3L455.0 55.4L455.5 58.5L456.1 60.7L456.0 61.2L455.0 63.9L454.2 61.3L453.0 59.9L450.8 58.1L449.2 54.6L449.2 54.5L444.3 53.1ZM351.2 40.0L352.0 40.0L353.7 40.7L353.1 42.6L351.4 41.9L350.8 40.8ZM378.6 59.5L378.2 62.0L377.3 62.3L376.0 66.9L376.1 67.8L375.4 67.7L372.5 67.0L374.9 66.4L375.4 65.8L377.0 61.9L378.5 59.4L378.1 58.5L378.6 59.2L378.7 59.4ZM408.8 69.7L409.5 70.9L407.6 72.4L403.9 73.1L403.7 70.3L403.8 67.1L407.0 67.8L407.7 67.8L408.1 67.8L408.3 68.0ZM450.6 71.8L450.6 71.3L450.8 71.1L451.2 71.3L451.0 71.8ZM468.5 73.2L466.9 75.0L465.8 75.5L463.9 76.0L465.0 73.7L465.4 72.5L466.7 72.1ZM449.2 34.3L447.1 37.5L447.2 40.9L450.8 41.3L451.6 41.3L451.7 41.3L455.4 42.9L457.9 43.6L458.0 43.1L458.2 43.6L458.2 43.7L458.3 44.0L458.0 44.0L455.4 47.5L452.1 47.5L451.5 47.5L449.8 45.6L447.3 42.7L446.2 42.5L446.2 41.7L444.8 39.6L443.2 37.2L444.4 36.1L447.8 33.8L448.3 33.2L449.0 33.1L449.4 33.7ZM370.2 63.7L368.9 66.5L367.2 65.6L367.1 64.3L365.4 61.8L366.6 60.1L369.5 60.8L369.9 62.4ZM396.2 63.3L396.5 60.8L397.9 63.4L399.6 63.2L398.9 64.6L396.2 66.9ZM387.1 51.1L387.1 50.9L387.3 50.9L387.3 51.0L388.6 54.0L389.4 57.8L390.0 59.1L388.2 62.0L384.7 60.3L384.6 59.6L385.6 55.6L387.1 51.2ZM398.7 76.4L397.5 74.5L398.1 70.7L401.5 71.9L401.9 74.2L400.9 76.0ZM384.1 69.9L384.0 67.4L384.0 65.7L383.2 64.6L383.0 63.4L383.8 62.8L384.6 64.1L387.0 65.2L390.0 65.9L388.2 69.4L388.2 69.7L387.9 74.3L384.5 71.0ZM477.5 35.3L475.4 34.6L474.8 33.4L475.0 31.6L476.6 30.6L477.3 31.7L478.6 33.0ZM458.9 58.2L458.0 56.1L458.8 54.3L461.1 54.6L462.2 56.3L462.8 59.4ZM471.6 43.8L470.1 45.5L467.8 43.8L466.7 41.0L465.6 40.0L464.6 39.1L462.7 37.6L462.2 34.7L464.2 35.1L466.7 37.4L467.6 37.9L468.8 38.5L469.9 40.1L473.6 40.4ZM452.6 30.8L453.3 29.4L454.5 29.1L455.0 30.5L456.5 33.9L453.0 32.4ZM417.3 88.2L417.1 88.3L416.8 88.0L416.9 87.5L416.9 85.3L417.8 83.8L419.5 84.0L420.2 85.3L419.1 86.5L417.6 87.9ZM478.9 45.3L478.7 45.8L478.3 46.2L477.8 45.3L478.5 45.0Z"/>
<path fill="#93c81f" fill-rule="evenodd" d="M360.2 41.7L359.6 41.2L359.2 40.9L359.5 40.4L360.4 40.3L362.7 39.4L364.9 38.8L367.2 39.4L366.4 40.7L366.9 42.3L368.4 42.4L370.0 43.3L370.9 43.5L372.0 44.4L372.0 48.1L369.1 49.4L368.6 49.4L365.1 51.6L365.0 51.6L368.4 49.3L365.4 46.1L364.9 44.9L363.7 43.7L363.2 42.3ZM430.4 49.2L429.9 49.1L429.7 48.5L429.9 48.2L430.5 48.0L430.6 48.6ZM429.9 67.6L430.2 68.5L429.0 68.1L428.9 67.6L428.9 67.0L429.7 67.2ZM362.1 35.7L363.5 35.9L363.6 36.5L361.8 37.8ZM415.6 73.9L415.2 74.0L415.1 73.6L415.3 73.2L415.5 73.5L415.9 73.6ZM369.5 64.1L368.9 65.2L368.3 64.8L368.0 62.4L367.5 61.6L367.9 61.0L368.8 61.3L369.0 61.8ZM383.1 46.1L383.2 48.0L382.1 48.1L380.6 48.5L380.4 50.1L380.8 51.3L380.1 52.2L379.4 51.0L378.7 50.4L377.5 49.3L374.0 49.2L375.4 46.0L376.1 45.6L378.0 45.8L378.9 45.5L380.4 45.9ZM399.7 74.9L399.4 74.5L399.6 73.8L400.2 74.0L400.3 74.4L400.1 74.8ZM407.5 69.1L408.2 70.4L407.3 71.1L405.7 71.4L405.6 70.2L405.6 68.8ZM441.4 66.4L441.4 65.0L442.8 65.4L443.1 66.0L443.7 66.9L442.8 67.1L439.9 68.7ZM446.5 51.1L447.1 50.3L448.2 49.7L448.9 49.9L450.6 50.5L453.7 50.5L455.6 51.0L456.8 52.7L455.7 53.5L453.4 56.1L453.9 58.8L451.9 57.1L451.3 55.7L449.7 53.1L448.4 51.7ZM448.8 43.3L450.9 43.4L453.5 43.3L454.8 43.9L455.8 44.2L454.8 45.6L453.6 45.6L450.8 45.5L450.3 44.9ZM387.5 56.9L388.5 59.3L387.8 60.5L386.4 59.8L385.9 57.5L386.2 56.2L386.7 54.6L387.2 55.7ZM444.7 37.4L445.0 37.2L444.8 37.5L444.8 37.8L444.7 37.6L444.6 37.4ZM470.6 43.0L470.0 43.6L469.2 43.0L468.8 41.9L466.2 39.6L463.9 37.5L463.2 36.9L463.0 35.8L463.8 36.0L464.7 36.8L467.3 38.4L468.0 38.7L470.0 41.6L471.3 41.7ZM453.8 31.2L453.9 31.1L454.0 31.1L454.1 31.4L453.9 31.3Z"/>
<path fill="#ffde00" fill-rule="evenodd" d="M363.0 40.7L364.3 40.2L365.0 40.0L365.6 40.2L365.4 40.6L366.1 42.8L368.2 42.9L370.5 44.2L370.6 44.3L370.6 44.6L370.3 44.8L368.3 47.5L366.3 45.3L365.6 43.6L365.2 43.2L364.5 41.0ZM362.6 36.2L363.0 36.3L363.0 36.4L362.6 36.7ZM382.7 47.2L382.7 47.7L382.4 47.7L380.2 48.3L380.0 50.5L379.0 49.6L377.1 47.9L376.1 47.9L376.5 47.0L376.8 46.9L377.3 46.9L379.1 46.3L381.9 47.1ZM455.5 52.4L455.6 52.5L455.5 52.6L454.8 53.4L453.4 52.3L455.3 52.3ZM468.2 40.5L466.7 39.1L465.4 37.9L467.0 38.9L467.1 38.9Z"/>
<path fill="#ff7f1e" fill-rule="evenodd" d="M381.4 47.8L379.9 48.2L379.7 49.2L379.2 48.8L377.9 47.6L379.3 47.2ZM368.0 45.4L367.1 44.5L366.7 43.3L368.0 43.4L369.1 44.0Z"/>
</g>
<polygon points="344.6,31.4 380.7,31.4 381.2,32.8 404.8,61.4 428.9,61.4 453.0,39.8 453.0,31.4 489.1,31.4 489.1,37.6 430.3,98.8 404.8,98.8 345.3,39.3 344.6,37.6" fill="none" stroke="#ffffff" stroke-width="1.5" stroke-dasharray="5.65 5.42" stroke-linejoin="round"/>
<path d="M296.4 6.8 V151.7 H537.8" fill="none" stroke="#111" stroke-width="1"/>
<path d="M295.9 7.3 H537.3 V152.2" fill="none" stroke="#111" stroke-width="0.9"/>
<text x="293.8" y="9.3" font-size="5.7" fill="#444" text-anchor="end">0</text>
<text x="293.8" y="33.4" font-size="5.7" fill="#444" text-anchor="end">100</text>
<text x="293.8" y="57.4" font-size="5.7" fill="#444" text-anchor="end">200</text>
<text x="293.8" y="81.5" font-size="5.7" fill="#444" text-anchor="end">300</text>
<text x="293.8" y="105.6" font-size="5.7" fill="#444" text-anchor="end">400</text>
<text x="293.8" y="129.6" font-size="5.7" fill="#444" text-anchor="end">500</text>
<text x="293.8" y="153.7" font-size="5.7" fill="#444" text-anchor="end">600</text>
<text x="296.4" y="158.3" font-size="5.7" fill="#444" text-anchor="middle">0</text>
<text x="344.6" y="158.3" font-size="5.7" fill="#444" text-anchor="middle">200</text>
<text x="392.8" y="158.3" font-size="5.7" fill="#444" text-anchor="middle">400</text>
<text x="440.9" y="158.3" font-size="5.7" fill="#444" text-anchor="middle">600</text>
<text x="489.1" y="158.3" font-size="5.7" fill="#444" text-anchor="middle">800</text>
<text x="537.3" y="158.3" font-size="5.7" fill="#444" text-anchor="middle">1000</text>
<text x="416.8" y="164.2" font-size="7.4" font-weight="bold" fill="#111" text-anchor="middle">x(m)</text>
<text transform="translate(278.5 62.3) rotate(-90)" font-size="6.7" fill="#1a1a1a" stroke="#1a1a1a" stroke-width="0.12" letter-spacing="0.2" text-anchor="middle">z(m)</text>
<text x="302.0" y="147.8" font-size="11.0" fill="#ffffff" letter-spacing="0.55">(c)</text>
<g clip-path="url(#cpb)">
<rect x="28.2" y="169.2" width="240.9" height="144.4" fill="#324a92"/>
<path fill="#3b66ab" fill-rule="evenodd" d="M203.9 167.2L207.0 167.2L212.3 167.2L212.4 167.2L212.0 167.2L211.4 167.2L210.2 167.2L210.3 167.2L210.8 167.2L211.7 168.2L211.7 168.3L212.9 170.1L213.3 170.8L213.3 172.4L214.4 172.8L214.9 174.7L215.0 175.2L216.7 177.3L216.7 177.5L216.9 177.5L219.1 177.1L220.3 178.7L220.8 178.8L221.9 181.0L221.9 181.1L222.0 181.1L224.0 182.1L225.0 183.0L225.2 184.3L226.1 185.7L226.8 186.3L227.4 187.9L227.3 189.6L227.2 190.0L227.6 190.3L227.9 190.6L229.2 191.0L231.8 192.7L232.2 192.8L232.3 193.1L232.2 193.3L230.2 195.3L231.4 196.8L231.9 197.3L231.7 198.3L230.9 199.4L231.9 201.5L232.0 201.8L231.8 202.3L230.8 203.5L232.1 205.8L232.8 206.1L233.9 206.6L234.3 208.1L233.5 209.0L233.3 210.9L232.2 212.1L231.5 212.9L231.8 214.5L231.8 215.0L231.8 215.4L232.7 216.5L232.8 214.7L233.4 213.9L234.1 214.0L234.3 214.4L234.1 214.7L232.7 216.6L231.9 219.6L232.0 219.9L230.1 222.2L230.0 222.8L230.3 224.4L229.4 225.7L229.4 226.3L229.2 227.2L229.0 228.7L228.9 229.7L227.9 230.8L228.0 231.5L227.9 232.7L228.5 234.4L229.3 233.7L230.8 233.0L231.0 234.7L231.4 237.3L231.3 237.4L228.9 238.1L228.9 239.3L228.7 240.7L228.3 242.0L228.4 243.0L228.7 244.1L228.1 245.1L227.3 246.8L227.2 247.4L226.5 248.3L226.0 250.2L225.5 251.6L225.6 252.5L225.3 253.1L225.3 253.2L224.4 254.3L223.7 254.5L223.7 254.9L221.8 257.0L221.7 257.3L221.3 259.4L221.0 259.8L219.8 262.4L218.9 263.4L218.2 263.9L218.2 264.4L217.9 266.6L217.4 267.1L216.5 267.1L215.3 267.7L214.4 268.2L214.1 269.4L213.8 269.9L213.6 270.1L212.4 272.1L211.7 273.5L211.5 274.3L210.2 274.6L208.2 274.2L208.1 273.9L208.0 274.1L207.9 274.2L207.9 274.3L208.4 275.9L208.2 276.8L207.7 277.2L206.1 277.7L206.0 277.7L205.9 277.9L205.5 280.6L204.5 281.4L203.1 282.4L203.1 283.1L203.7 284.8L202.1 286.3L201.6 286.6L200.7 287.8L199.6 288.3L198.3 287.1L198.3 286.5L197.7 286.7L197.4 287.1L197.7 287.7L198.1 289.5L197.0 290.9L195.8 291.0L195.0 290.7L193.5 291.2L192.7 291.4L192.0 291.8L190.4 292.7L188.2 293.9L188.1 293.9L187.9 294.0L188.0 294.3L187.8 295.7L187.6 296.1L186.6 296.7L184.4 296.8L184.0 297.0L183.0 297.6L181.6 298.8L180.6 299.2L178.9 300.7L178.8 300.7L177.5 301.4L176.3 302.3L175.9 302.7L174.5 305.4L171.7 304.9L171.2 305.0L169.4 305.2L168.8 307.7L168.6 308.0L168.2 307.9L166.7 307.5L166.4 305.1L166.7 304.7L166.1 304.5L165.9 304.4L165.8 304.7L164.4 306.4L163.2 306.2L161.3 306.0L160.9 305.7L159.5 305.6L158.2 305.7L155.9 305.9L154.8 306.9L154.0 306.8L152.8 305.0L151.4 305.4L151.0 305.6L148.3 305.3L147.1 307.1L146.8 307.3L146.4 307.2L146.3 307.0L146.0 305.3L145.4 305.3L143.8 305.0L143.1 304.8L141.5 305.4L140.7 305.6L140.5 305.6L140.1 305.4L138.1 304.2L137.0 304.1L134.8 304.9L133.0 304.6L131.9 304.6L130.4 304.0L128.7 303.2L128.1 302.8L127.7 302.9L126.8 302.6L126.6 301.7L125.2 301.7L124.2 300.4L122.6 301.3L121.4 301.5L120.7 301.1L120.4 300.3L118.4 299.5L117.9 298.7L117.8 297.9L117.6 295.7L117.2 295.8L114.7 295.9L113.3 295.4L112.7 294.7L112.1 294.3L110.5 292.9L110.0 292.8L109.1 292.3L107.0 292.0L106.3 291.9L105.3 291.2L105.0 290.2L103.1 289.5L101.4 291.1L101.4 291.3L101.2 291.1L101.1 291.0L102.5 289.1L101.8 288.0L101.3 287.0L100.9 286.8L100.7 286.5L99.2 285.9L98.8 284.5L98.1 284.0L97.3 283.4L95.8 284.0L96.0 282.2L94.9 281.1L92.5 280.2L92.0 280.0L91.5 277.6L91.5 277.5L89.6 276.3L89.6 275.8L89.1 274.6L89.0 273.5L88.7 272.1L87.9 272.1L86.8 272.6L85.8 271.5L85.3 270.5L84.5 268.9L83.9 268.4L83.3 268.2L81.8 267.4L81.8 266.6L81.2 264.9L81.0 264.0L80.7 263.7L79.9 262.7L79.8 262.6L79.8 262.5L78.2 260.3L78.1 259.8L77.8 258.9L77.5 257.4L77.7 255.7L77.6 255.1L76.9 254.1L76.8 253.6L76.2 250.8L76.2 250.7L76.1 250.7L75.7 250.2L73.8 248.5L73.2 247.0L73.1 246.9L71.5 244.7L70.9 244.2L70.4 242.9L70.4 242.6L68.8 241.7L68.2 239.6L68.1 238.6L68.3 237.6L69.0 235.8L68.4 235.5L69.0 235.4L68.6 233.3L68.5 231.9L67.4 231.2L66.9 231.1L65.6 228.2L66.4 225.8L66.3 225.6L66.4 225.4L65.5 223.6L66.3 221.9L66.3 221.2L65.4 219.7L65.1 219.5L64.7 218.6L65.8 217.8L66.5 217.7L66.0 217.0L66.0 216.9L65.8 216.5L64.4 216.5L64.9 214.8L63.6 212.6L63.5 212.4L63.4 211.9L64.4 209.9L64.7 209.5L64.8 207.9L64.8 206.3L65.0 206.2L65.0 205.9L65.2 204.0L64.5 201.6L64.5 200.9L64.8 200.7L65.3 198.9L65.4 196.5L66.7 195.8L67.3 195.1L67.6 192.2L67.4 192.0L67.6 191.7L69.6 189.6L69.6 189.5L68.9 187.5L69.7 187.0L70.1 185.9L70.5 184.9L71.0 184.0L71.6 181.9L73.6 181.4L74.3 181.3L74.5 180.8L74.3 180.4L72.9 178.9L75.2 178.3L76.3 177.6L77.0 177.3L77.5 176.9L78.4 176.1L80.0 174.3L79.3 173.2L79.3 172.9L79.5 172.2L80.2 171.5L82.2 171.4L81.6 169.8L82.5 168.2L83.1 167.6L83.9 167.2L84.2 167.2L84.1 167.2L82.4 167.2L81.6 167.2L81.5 167.2L83.5 167.2L83.9 167.2L85.3 167.2L90.2 167.2L91.3 167.2L91.8 167.2L172.3 167.2L106.9 167.2L113.4 167.2L114.8 167.2L114.9 167.2L115.8 167.2L116.2 167.2L115.4 167.2L114.6 167.6L115.1 169.7L117.0 169.7L115.0 171.3L114.6 172.3L114.2 174.2L114.5 174.4L116.4 175.9L117.2 177.0L118.4 177.9L119.2 178.6L119.7 179.0L121.1 180.6L122.8 179.9L123.6 180.2L124.2 180.9L124.4 182.9L126.9 182.5L128.0 182.1L129.0 181.4L130.4 182.2L132.4 182.8L132.9 182.9L133.5 183.3L135.2 184.5L136.2 184.4L138.0 184.1L139.6 186.4L141.1 186.2L142.3 186.6L143.7 185.5L144.0 185.1L146.0 184.8L146.4 184.9L146.6 184.8L147.3 185.2L149.6 187.0L151.2 188.6L151.4 188.7L151.5 188.7L153.2 187.9L153.5 187.9L155.3 188.5L155.9 188.6L158.4 189.0L159.4 189.9L159.9 189.9L160.2 189.9L160.5 189.7L160.6 189.1L160.6 187.9L162.6 186.2L162.7 186.1L162.7 186.2L164.7 187.1L165.4 186.3L166.2 185.3L167.1 184.0L167.1 183.8L167.2 183.8L168.1 181.9L169.9 182.4L171.8 182.9L171.6 181.7L170.8 179.4L170.8 178.5L171.0 178.0L171.6 178.1L174.4 179.2L174.7 179.5L174.8 179.4L175.3 179.4L176.7 179.0L177.4 176.6L177.5 176.5L179.4 173.9L179.4 173.5L180.0 173.5L181.3 172.9L181.8 172.3L182.0 170.5L182.2 170.3L182.1 170.0L182.6 167.7L181.6 167.2L181.5 167.2L181.3 167.2L182.4 167.2L183.4 167.2L183.8 167.2L184.0 167.2L184.4 167.2ZM69.6 228.4L69.3 229.4L69.9 228.5L69.9 228.4L69.9 228.3L69.7 228.1ZM151.6 186.0L151.7 186.1L151.8 186.1L151.9 186.4L151.6 187.5L151.5 186.1Z"/>
<path fill="#19bfd9" fill-rule="evenodd" d="M223.3 199.2L223.0 200.2L223.4 201.7L222.5 203.7L222.6 203.8L222.5 203.8L221.7 206.2L222.7 207.7L223.1 207.9L222.7 208.0L221.7 211.0L221.8 212.6L222.0 212.7L221.9 212.9L221.7 215.4L221.4 215.7L219.9 217.2L219.7 217.5L220.3 219.3L220.2 220.9L220.7 222.0L220.5 223.5L219.2 224.2L218.5 224.8L217.7 226.9L219.3 227.9L219.5 228.3L219.2 229.3L217.9 230.9L215.3 233.2L215.3 233.3L215.5 235.4L214.8 236.0L214.7 237.3L214.2 238.5L213.2 239.2L212.8 240.7L212.2 242.4L212.7 243.3L213.1 244.4L212.8 245.8L211.8 245.1L210.6 245.9L209.7 246.3L209.0 248.4L209.2 248.8L209.0 249.0L208.6 249.1L207.3 250.6L206.7 251.7L206.3 252.7L206.1 252.8L205.0 255.6L202.6 255.0L202.0 255.3L201.6 255.8L200.7 256.7L199.5 257.2L199.1 257.8L198.8 260.4L198.3 261.5L197.5 261.8L196.4 262.3L196.2 262.6L194.8 263.9L193.1 263.8L192.5 263.8L190.3 263.7L189.2 263.8L188.6 264.9L188.8 266.0L188.8 266.2L187.1 268.1L186.0 269.1L185.5 269.6L184.4 269.5L183.2 269.3L182.2 270.1L181.1 270.8L180.7 271.1L180.4 271.5L179.1 272.0L177.6 273.1L177.4 273.2L176.4 273.6L174.5 274.7L174.3 275.6L173.8 275.8L173.1 275.7L170.1 275.1L169.9 275.0L169.9 275.1L168.7 277.5L166.7 277.6L166.1 277.6L164.3 277.3L163.8 277.5L162.7 278.5L161.8 279.4L160.5 279.7L159.3 279.8L157.5 279.5L157.2 279.5L155.5 279.5L153.7 278.0L153.5 277.6L153.1 277.7L152.9 278.0L151.6 279.5L149.6 280.4L149.4 280.4L148.0 280.6L146.5 280.8L146.3 281.1L145.8 281.6L144.0 282.3L143.1 282.6L142.8 282.6L142.6 282.4L141.0 281.5L139.8 281.1L137.9 283.2L136.4 281.2L135.4 281.6L133.4 281.7L132.8 280.3L132.3 278.6L130.7 277.9L129.8 277.4L129.6 277.3L129.4 277.5L127.5 277.0L126.1 276.6L125.2 276.7L124.3 276.4L123.6 276.2L121.9 274.7L121.0 274.9L120.3 275.2L118.7 274.7L117.4 274.8L116.4 274.9L116.2 274.0L115.3 272.0L113.8 272.5L112.0 272.4L111.0 271.5L111.7 269.7L111.9 269.5L111.6 269.3L111.4 269.0L109.5 268.3L108.6 268.5L107.4 269.4L106.6 270.3L106.0 269.9L105.7 269.7L106.1 268.0L106.5 266.4L106.8 265.5L106.8 264.9L106.5 264.6L106.2 264.6L104.7 264.2L104.2 263.7L101.8 263.5L101.9 262.1L100.8 261.3L99.9 260.5L99.1 260.4L99.0 259.8L96.9 257.7L96.2 257.2L95.8 256.6L94.5 255.7L94.0 255.5L92.8 253.0L92.8 252.3L91.5 250.6L91.4 250.6L91.2 250.9L90.0 253.0L89.4 253.2L89.1 253.1L89.0 253.0L88.2 251.4L88.0 250.7L87.6 248.7L87.6 248.5L87.0 247.0L86.8 245.0L86.3 244.3L85.0 243.9L84.3 244.0L83.0 243.1L82.4 242.4L83.0 241.2L83.3 240.2L83.1 238.9L81.8 237.8L81.4 236.7L79.9 235.2L79.4 234.5L78.7 234.8L76.9 234.8L76.5 234.9L76.4 234.8L76.3 234.7L76.0 234.3L75.7 233.2L75.6 232.6L74.4 231.8L73.7 230.6L73.6 230.3L72.7 228.8L72.7 228.5L72.7 228.3L73.0 227.8L74.2 227.2L75.1 226.0L74.4 225.3L74.9 223.9L74.5 221.7L74.4 221.7L74.5 221.6L74.7 221.1L75.2 219.7L75.4 219.6L75.2 219.5L74.9 219.2L73.6 217.2L72.8 218.2L71.7 218.4L71.3 217.4L71.5 216.4L72.7 215.6L73.3 215.8L73.7 214.8L73.6 214.3L73.8 213.0L73.1 211.7L74.3 210.9L72.7 210.3L72.1 208.7L73.2 206.7L73.3 206.3L74.3 204.1L74.3 203.9L74.4 203.7L73.6 202.9L73.0 202.3L73.0 202.1L73.1 201.8L73.2 199.2L73.6 198.6L74.0 197.6L74.6 196.6L76.0 194.7L75.9 192.5L75.7 192.4L75.9 192.0L76.6 190.7L76.9 190.5L77.6 190.2L78.2 188.1L76.7 188.3L78.3 187.6L77.5 186.3L79.6 185.3L80.8 184.1L80.8 183.7L81.1 183.6L83.5 183.3L84.4 182.5L85.4 181.9L86.5 180.8L86.6 180.6L86.9 180.6L89.3 180.3L90.5 178.8L90.6 178.4L90.9 178.4L92.9 177.3L94.8 177.1L95.6 177.3L96.5 177.3L98.7 178.3L99.5 178.6L101.7 179.1L99.5 179.7L99.6 181.2L99.6 181.3L100.2 181.6L100.8 181.2L102.2 179.2L103.7 179.6L104.6 179.5L106.0 179.4L108.0 181.5L108.3 181.7L108.9 181.9L110.7 182.3L111.2 184.0L111.8 184.4L112.4 184.4L113.5 184.8L116.0 185.5L116.3 185.3L116.3 185.7L116.4 186.4L116.2 187.8L116.6 188.0L117.3 188.5L117.6 188.0L119.0 187.8L120.1 187.9L121.2 188.3L123.3 189.9L123.7 189.9L123.9 190.1L126.9 190.4L127.7 190.4L127.9 190.8L129.3 191.0L130.8 191.9L132.0 192.1L132.3 192.1L132.5 192.3L134.0 194.2L136.4 194.8L136.5 194.7L136.7 194.8L138.5 196.8L139.7 196.2L140.5 196.4L141.1 196.9L142.9 197.2L144.1 197.9L145.3 198.1L146.2 198.2L147.7 197.8L148.5 197.2L149.3 196.8L150.9 196.1L151.2 195.1L151.9 196.2L153.0 196.5L153.7 196.0L155.3 196.2L156.5 194.7L157.3 194.0L158.3 193.0L158.8 193.2L160.9 192.7L161.3 192.8L161.4 192.7L164.2 191.9L164.5 192.0L165.8 192.6L166.2 192.1L168.0 191.4L169.9 190.1L170.1 190.0L170.4 189.9L170.0 189.5L169.3 188.4L169.4 188.1L169.6 187.9L169.7 187.8L171.8 187.3L172.1 187.4L172.1 187.3L174.2 187.2L175.0 186.0L175.5 185.8L176.5 185.4L178.3 184.9L178.6 183.6L179.4 183.2L180.2 183.0L182.2 183.0L182.3 183.1L182.4 183.0L182.5 182.9L183.0 181.0L184.8 180.4L186.3 180.4L186.4 180.5L187.8 180.7L188.6 180.8L190.4 180.0L191.4 178.8L192.0 177.9L193.3 177.8L194.4 179.3L195.2 179.8L195.5 179.8L197.0 178.9L197.8 179.0L198.0 178.7L199.1 177.3L200.9 177.4L202.9 178.6L203.1 178.8L203.4 178.6L203.6 178.5L204.2 177.2L204.2 177.1L204.3 177.1L206.1 177.8L206.9 177.9L208.0 178.2L210.1 179.2L210.4 179.5L210.4 181.4L211.2 183.2L212.7 183.0L213.3 183.1L213.9 184.0L215.2 184.9L215.9 185.3L216.8 186.8L218.5 186.4L219.6 186.4L220.0 187.7L219.6 189.7L219.9 190.1L222.0 191.5L222.9 192.6L222.7 193.7L222.5 194.2L222.7 195.3L222.9 197.2L222.9 198.7ZM204.0 256.9L203.6 257.3L203.5 257.3L203.3 257.2L203.4 257.1Z"/>
<path fill="#44bd86" fill-rule="evenodd" d="M185.6 190.4L186.7 188.2L187.5 188.1L187.9 187.9L189.4 187.3L190.3 187.3L191.8 188.2L193.4 187.1L194.4 186.5L194.6 186.2L195.7 185.1L196.7 185.5L196.9 186.0L198.0 187.9L199.7 187.8L200.4 187.2L201.6 186.2L204.0 185.9L204.5 186.5L205.6 187.4L208.0 187.9L208.6 187.8L209.2 188.6L209.4 189.5L209.4 189.9L210.3 191.3L210.3 192.0L211.0 192.4L211.4 192.8L212.5 192.4L213.0 192.6L214.3 194.6L214.6 194.9L216.4 196.5L216.7 196.7L217.4 199.3L217.5 199.6L218.7 200.5L219.0 201.3L218.8 201.6L218.0 203.3L219.3 205.0L219.2 205.6L218.1 207.4L217.2 207.9L215.0 208.9L214.7 209.0L214.0 211.1L214.1 213.3L214.1 213.5L213.7 213.9L212.8 214.7L212.4 215.4L212.7 216.3L213.2 217.0L212.7 217.0L211.6 219.4L211.6 221.0L211.4 221.3L210.2 222.3L208.6 223.1L207.5 223.5L207.0 224.3L207.1 224.8L208.2 224.8L209.7 225.2L209.6 225.7L209.0 226.2L207.0 226.4L205.7 227.9L205.6 228.0L205.5 228.2L205.4 228.6L205.5 230.9L205.8 232.3L203.1 231.9L201.9 232.6L200.0 233.3L201.5 235.0L201.5 235.4L201.4 235.7L201.2 235.6L199.5 235.5L199.4 234.4L199.0 235.4L198.5 235.3L196.1 235.2L195.9 237.6L195.8 237.7L195.6 237.8L195.5 237.6L193.2 236.4L192.6 236.7L191.2 238.0L190.6 238.6L189.6 239.6L188.3 239.9L187.9 239.8L187.4 240.2L186.5 240.6L185.8 241.9L185.3 242.4L185.0 242.3L182.2 243.2L181.1 244.3L181.4 244.9L180.9 245.9L179.6 246.4L177.6 249.2L177.5 249.2L175.7 248.7L174.9 248.7L174.8 249.4L173.5 250.3L171.6 250.7L171.4 250.8L171.2 250.9L169.5 251.0L168.6 253.2L168.2 253.8L167.8 253.8L166.9 253.2L165.9 251.6L163.9 252.1L163.0 252.3L161.4 251.4L160.8 251.4L160.2 250.7L158.0 249.7L157.3 250.8L156.9 251.4L155.6 251.6L153.7 251.8L152.9 251.6L152.5 251.2L151.7 250.2L151.0 250.5L148.9 250.4L147.9 249.9L147.7 250.7L145.7 251.1L144.8 251.5L143.1 251.3L142.7 251.3L140.6 251.6L140.4 251.5L137.9 251.0L137.1 251.1L136.1 251.2L135.2 251.3L135.0 251.5L133.6 252.1L131.9 252.0L129.9 251.3L129.9 251.2L129.2 249.3L128.7 248.9L128.3 248.8L125.8 248.8L125.6 248.7L124.6 247.8L122.6 246.4L122.5 246.4L122.4 246.3L120.4 243.8L119.3 244.8L118.2 245.4L116.7 245.2L115.3 244.9L113.1 244.2L113.0 244.2L110.2 245.0L110.0 245.0L109.8 244.9L109.5 242.8L109.4 242.6L106.7 240.7L105.6 241.1L104.8 242.0L104.2 242.5L103.6 242.3L102.8 241.8L103.5 239.7L103.5 239.3L103.4 239.0L103.0 239.0L100.7 238.4L99.4 237.4L98.8 238.0L97.4 238.9L96.4 237.8L96.2 237.2L96.1 235.8L96.3 235.2L95.7 234.5L95.1 234.8L92.9 234.4L92.5 233.5L91.7 231.1L91.8 231.0L93.0 229.8L92.2 228.4L91.8 226.3L92.0 226.2L91.8 226.1L91.7 224.4L91.6 224.1L91.5 221.7L91.4 220.1L92.0 219.3L91.1 218.8L90.2 217.3L90.0 216.7L89.1 216.6L87.7 216.4L87.5 215.2L87.9 214.1L88.7 212.7L88.1 212.0L86.5 211.0L86.4 210.9L85.3 208.6L85.2 207.8L84.5 208.0L83.0 206.9L82.8 206.6L82.9 206.2L83.7 205.8L85.3 205.6L85.8 204.0L85.6 203.5L85.7 203.0L84.6 201.9L85.3 200.3L86.8 198.5L87.0 198.3L87.8 196.6L87.8 195.5L87.3 194.2L88.7 192.8L89.5 192.5L89.7 190.5L89.7 190.2L90.4 189.1L89.8 188.2L91.5 187.6L91.8 187.2L92.7 186.8L92.9 185.9L94.4 184.6L96.3 183.6L96.9 183.4L98.1 184.1L98.9 185.7L99.6 187.0L100.7 187.5L101.4 187.8L101.7 188.1L102.3 189.9L104.9 190.2L105.5 190.1L105.6 190.5L107.4 191.4L108.7 192.2L109.4 190.6L110.0 190.2L110.3 190.5L110.7 190.7L111.8 192.0L111.1 192.1L111.8 192.1L111.9 192.1L114.0 193.4L115.7 193.8L116.1 194.1L116.6 194.4L117.6 196.0L119.2 196.2L119.6 196.6L120.0 197.0L120.7 199.3L122.1 199.3L123.0 200.3L122.6 201.1L124.0 202.5L126.2 203.2L126.2 203.3L128.7 204.2L130.0 205.5L130.1 205.7L130.2 205.7L132.9 206.9L133.5 206.9L135.0 207.1L136.6 208.5L136.6 208.7L137.2 209.4L138.1 210.3L139.9 209.7L140.3 209.7L142.8 209.8L143.3 209.9L145.0 210.7L145.3 210.8L148.6 210.5L149.0 210.4L150.2 210.6L149.0 212.5L148.1 213.0L149.0 213.4L149.5 213.4L149.6 213.1L151.7 211.4L152.5 212.7L152.7 212.9L154.0 213.9L154.9 214.8L155.1 215.4L156.1 215.5L156.0 214.9L158.1 213.3L159.9 212.8L160.0 212.8L160.4 212.7L161.9 212.3L163.5 211.3L164.1 210.5L164.3 210.5L165.5 209.3L165.8 207.9L167.3 206.4L168.9 206.5L169.3 206.4L169.7 206.0L169.6 205.3L169.5 204.6L169.6 204.3L169.9 204.0L170.3 204.0L171.9 202.7L173.7 201.3L174.0 201.1L174.3 200.9L176.0 200.2L177.2 198.6L177.9 197.9L179.2 198.1L180.3 198.2L180.7 197.1L180.5 195.3L180.3 195.0L180.4 194.9L180.6 194.9L183.1 194.2L184.2 192.9L184.5 191.5L185.6 190.4ZM90.6 197.2L90.8 197.1L90.9 196.5L90.2 196.6L89.4 196.8L88.3 198.0L90.4 197.3Z"/>
<path fill="#3db52e" fill-rule="evenodd" d="M180.2 210.1L178.2 208.3L177.7 208.8L177.9 207.9L178.0 207.8L180.8 206.8L182.7 205.8L182.8 206.4L183.2 207.5L183.3 208.2L183.5 209.0L184.1 210.8L182.7 213.0L180.4 211.8L180.1 211.2ZM181.3 218.6L179.9 219.0L177.8 217.6L177.6 217.5L177.6 217.4L177.6 216.9L178.3 214.4L178.7 214.1L179.4 213.6L180.5 214.4L182.3 215.1L182.7 217.6ZM195.3 196.8L197.0 196.6L198.5 196.1L200.1 195.8L201.4 194.6L201.5 194.0L201.9 194.3L202.1 194.5L203.9 196.5L204.8 197.6L204.3 198.5L203.7 201.8L203.0 202.6L201.6 203.6L201.4 203.7L201.3 203.8L199.7 205.0L199.1 205.7L198.1 206.7L197.2 207.0L195.8 207.2L194.5 206.9L193.7 206.1L194.1 204.5L194.2 204.4L194.1 204.3L193.9 204.3L191.8 203.2L191.4 201.7L191.6 200.4L192.9 199.2L193.8 198.6L194.9 196.9L195.0 196.6ZM182.9 202.9L183.3 203.1L183.8 203.3L183.7 205.2L182.8 205.3L182.8 203.2ZM111.6 205.8L111.7 206.1L113.5 208.5L113.6 208.9L115.3 209.5L115.7 210.4L115.5 211.7L114.4 211.6L112.8 212.2L112.6 213.1L112.5 214.0L112.6 214.5L112.3 215.1L111.6 215.0L110.7 214.4L110.0 214.2L109.5 214.2L107.7 213.6L105.8 213.0L105.4 212.7L105.0 211.1L104.8 210.9L104.3 210.5L102.0 209.7L100.7 209.5L100.2 209.5L98.8 209.6L96.0 209.9L93.3 210.6L93.1 210.3L92.6 208.4L91.8 207.8L90.9 206.1L90.9 205.7L90.3 204.0L90.2 203.8L90.4 203.7L91.0 202.5L91.6 202.0L91.6 201.5L91.6 200.8L91.1 201.2L90.0 200.0L89.9 199.6L90.2 199.5L92.3 198.4L92.9 198.3L94.6 198.9L95.5 197.4L95.4 196.1L96.4 196.5L98.3 196.4L98.4 196.5L98.6 196.4L99.9 197.8L100.4 198.4L101.6 199.6L101.7 200.5L103.2 200.4L104.6 199.9L106.7 201.0L107.3 201.3L107.4 201.4L109.8 203.1L110.1 203.1L110.2 203.3ZM175.4 215.6L174.5 215.2L174.6 214.5L174.6 214.2L175.5 213.3L176.2 214.4Z"/>
</g>
<polygon points="76.4,193.3 112.5,193.3 113.0,194.7 136.6,223.3 160.7,223.3 184.8,201.7 184.8,193.3 220.9,193.3 220.9,199.5 162.1,260.7 136.6,260.7 77.1,201.2 76.4,199.5" fill="none" stroke="#ffffff" stroke-width="1.5" stroke-dasharray="5.65 5.42" stroke-linejoin="round"/>
<path d="M28.2 168.7 V313.6 H269.6" fill="none" stroke="#111" stroke-width="1"/>
<path d="M27.7 169.2 H269.1 V314.1" fill="none" stroke="#111" stroke-width="0.9"/>
<text x="25.6" y="171.2" font-size="5.7" fill="#444" text-anchor="end">0</text>
<text x="25.6" y="195.3" font-size="5.7" fill="#444" text-anchor="end">100</text>
<text x="25.6" y="219.3" font-size="5.7" fill="#444" text-anchor="end">200</text>
<text x="25.6" y="243.4" font-size="5.7" fill="#444" text-anchor="end">300</text>
<text x="25.6" y="267.5" font-size="5.7" fill="#444" text-anchor="end">400</text>
<text x="25.6" y="291.5" font-size="5.7" fill="#444" text-anchor="end">500</text>
<text x="25.6" y="315.6" font-size="5.7" fill="#444" text-anchor="end">600</text>
<text x="28.2" y="320.2" font-size="5.7" fill="#444" text-anchor="middle">0</text>
<text x="76.4" y="320.2" font-size="5.7" fill="#444" text-anchor="middle">200</text>
<text x="124.6" y="320.2" font-size="5.7" fill="#444" text-anchor="middle">400</text>
<text x="172.7" y="320.2" font-size="5.7" fill="#444" text-anchor="middle">600</text>
<text x="220.9" y="320.2" font-size="5.7" fill="#444" text-anchor="middle">800</text>
<text x="269.1" y="320.2" font-size="5.7" fill="#444" text-anchor="middle">1000</text>
<text x="148.7" y="326.1" font-size="7.4" font-weight="bold" fill="#111" text-anchor="middle">x(m)</text>
<text transform="translate(10.3 224.2) rotate(-90)" font-size="6.7" fill="#1a1a1a" stroke="#1a1a1a" stroke-width="0.12" letter-spacing="0.2" text-anchor="middle">z(m)</text>
<text x="33.8" y="309.7" font-size="11.0" fill="#ffffff" letter-spacing="0.55">(b)</text>
<g clip-path="url(#cpd)">
<rect x="296.4" y="169.2" width="240.9" height="144.4" fill="#324a92"/>
<path fill="#3b66ab" fill-rule="evenodd" d="M499.0 220.5L499.2 221.9L498.9 222.9L497.7 223.6L497.3 224.0L496.9 224.1L497.4 224.7L497.4 226.5L496.9 228.0L495.6 228.8L496.2 230.0L497.4 231.0L496.1 232.0L495.9 232.9L496.2 234.1L497.1 235.5L496.0 236.9L495.8 237.7L494.8 238.8L494.7 239.7L494.1 241.4L494.0 241.9L493.4 242.6L492.6 243.8L492.1 244.3L491.3 246.9L491.3 247.2L491.3 247.3L491.8 248.6L489.8 250.1L489.1 250.1L489.2 250.8L489.2 251.3L489.4 253.4L488.3 254.1L487.0 255.4L487.5 257.2L487.5 257.4L487.4 257.5L486.3 259.4L486.3 259.5L486.2 259.5L484.3 260.9L483.8 262.3L483.0 263.0L481.8 263.3L480.8 263.4L478.4 264.9L478.3 265.0L478.2 265.1L477.9 266.1L479.6 265.8L480.3 266.0L480.4 266.2L480.3 266.2L480.2 266.3L477.5 267.2L476.8 267.6L475.5 268.3L475.1 268.7L474.4 269.3L473.0 270.7L472.1 271.5L471.8 271.9L471.7 272.4L471.1 273.3L470.9 274.1L470.4 275.5L470.2 275.9L469.9 275.9L467.5 275.2L467.4 275.2L465.7 276.7L463.5 278.7L463.5 278.9L463.2 278.8L461.6 279.1L459.8 280.6L459.5 281.5L459.1 282.3L458.2 283.0L457.4 283.1L456.4 283.3L455.9 283.4L453.9 282.3L452.8 281.7L452.2 281.7L452.0 282.0L451.8 283.0L451.8 285.2L451.4 285.6L450.8 286.0L449.4 284.9L449.3 284.9L447.2 285.9L445.8 287.0L445.5 287.3L445.2 287.5L442.5 288.0L441.8 287.4L439.9 287.5L438.0 289.9L437.0 290.4L435.8 290.9L434.1 290.0L433.9 289.8L431.5 290.2L430.3 290.5L428.9 289.7L428.0 291.5L427.7 291.8L427.2 291.7L426.8 291.4L424.6 290.8L423.2 290.3L422.3 290.3L421.3 290.7L420.0 291.3L419.8 291.5L419.2 291.7L417.1 292.1L416.4 293.1L415.7 293.5L413.4 293.5L413.2 293.6L413.1 293.6L411.5 293.6L409.9 293.3L408.9 293.1L408.6 293.8L407.3 293.9L406.7 293.8L405.8 293.2L406.1 292.1L403.9 292.4L402.6 293.2L402.3 293.3L402.1 293.3L399.4 294.1L399.2 294.1L399.0 293.8L399.0 292.1L399.2 291.2L398.9 290.7L398.1 290.7L396.6 290.6L396.2 290.2L394.8 289.9L394.2 289.9L392.2 289.5L391.6 289.7L390.8 289.2L390.0 288.6L389.0 288.2L388.3 287.8L388.0 287.6L386.6 285.7L385.5 285.4L384.1 285.1L383.0 285.1L382.1 285.4L381.8 285.0L380.7 283.4L380.5 283.2L378.2 283.6L377.7 283.5L377.3 282.8L377.1 281.6L377.0 280.4L376.5 279.7L375.5 278.6L375.3 278.3L374.8 278.1L372.2 278.2L370.5 277.4L370.4 277.3L370.3 277.4L370.3 277.3L370.2 277.2L368.6 276.0L367.5 275.4L366.6 274.6L365.9 274.1L364.9 272.7L364.0 271.3L363.9 271.1L363.8 271.1L361.1 270.2L361.1 268.8L360.0 267.4L359.8 267.3L358.5 265.0L357.1 264.2L356.9 264.0L356.5 263.6L355.1 262.2L355.0 261.9L355.0 261.5L355.3 260.0L354.7 259.2L352.8 258.6L352.0 258.4L351.8 258.1L351.0 255.8L350.2 253.3L348.1 253.6L347.6 253.6L347.2 252.7L346.8 252.0L347.8 251.4L346.4 250.3L345.9 249.5L345.6 248.6L344.8 248.3L344.2 247.3L343.6 246.8L343.3 246.1L343.6 245.8L343.7 244.5L343.1 243.9L341.9 241.6L341.7 240.6L341.4 240.2L341.3 239.2L340.8 237.8L340.7 237.7L340.0 235.7L339.7 235.1L339.4 234.8L337.5 234.5L337.1 232.8L337.0 232.1L336.0 230.9L336.7 228.5L336.7 228.0L336.6 226.5L336.6 226.3L336.5 226.2L335.2 225.2L333.1 224.5L333.1 224.6L333.1 224.5L333.2 224.4L334.9 223.0L335.3 222.0L334.4 221.3L334.0 218.8L333.9 218.6L333.2 217.2L333.1 215.1L333.0 214.6L333.0 214.0L333.7 213.8L334.2 213.4L334.3 212.9L334.1 212.8L334.0 212.6L332.6 211.7L332.4 210.6L332.4 209.0L332.6 208.2L333.4 206.5L333.5 206.3L335.2 204.0L335.2 203.8L335.1 203.4L334.0 201.8L334.9 200.2L335.5 199.4L335.6 197.4L335.7 196.8L337.1 195.0L337.2 194.9L337.1 194.8L336.8 192.9L337.7 190.3L338.3 189.9L339.3 188.9L339.7 187.6L340.0 185.8L340.5 185.4L341.8 184.2L342.3 184.9L344.3 184.1L345.1 183.4L344.9 181.2L345.1 181.1L346.4 179.6L348.4 178.4L349.7 178.1L351.1 178.2L351.4 177.1L352.2 175.8L354.3 174.2L354.5 174.2L356.2 175.4L356.9 175.1L357.3 174.8L358.8 172.9L360.1 172.8L361.4 172.6L363.8 172.8L364.3 173.6L365.2 174.6L365.9 173.1L367.4 172.5L367.9 172.2L368.2 172.2L368.5 172.5L368.5 173.0L368.6 174.1L369.6 174.7L370.2 174.7L370.8 174.3L371.5 173.4L372.5 173.9L374.8 174.1L375.3 173.7L376.3 174.5L377.2 175.0L377.9 174.7L379.4 174.7L381.7 176.4L382.2 176.5L382.5 176.9L384.0 177.3L384.3 177.3L386.9 178.2L387.4 178.3L387.5 178.3L387.7 178.5L387.9 179.0L389.4 180.7L389.5 180.8L389.6 180.9L389.8 180.8L390.8 179.9L392.4 179.9L393.8 180.6L394.3 180.7L395.0 181.1L394.9 182.1L394.7 183.2L395.8 183.6L396.0 183.7L398.9 183.4L399.0 183.4L400.2 185.1L401.1 184.4L402.5 184.6L404.7 185.7L405.0 185.7L405.5 185.9L405.3 186.5L405.2 187.6L405.9 187.6L406.2 187.6L407.5 187.8L408.2 187.6L408.4 187.9L409.0 188.1L410.5 188.7L413.1 189.6L413.2 189.6L414.8 189.8L415.3 189.7L415.7 190.5L417.2 191.2L418.3 192.0L419.8 190.8L420.4 190.3L420.9 190.3L422.7 189.3L423.3 189.0L424.7 188.5L425.6 188.1L426.6 188.0L427.2 187.7L428.5 187.2L430.5 187.0L431.7 186.4L433.9 185.4L434.2 185.4L435.6 185.8L435.7 185.8L435.7 185.7L437.8 184.6L438.7 183.5L439.3 181.9L440.5 182.0L441.4 181.5L442.8 181.4L442.7 180.2L444.8 180.0L445.4 179.4L447.5 179.1L448.2 178.7L448.5 177.1L448.2 176.6L448.5 176.3L449.3 176.3L449.9 176.4L451.1 176.4L451.7 176.5L453.4 177.1L455.0 177.0L456.1 176.5L457.1 175.5L458.6 174.7L460.6 175.4L461.8 175.3L463.8 174.2L463.9 174.3L465.1 174.8L465.6 174.4L466.8 174.5L467.4 173.9L469.0 174.1L469.0 174.6L470.0 175.0L471.5 175.0L473.0 175.4L474.3 175.5L475.4 175.5L476.5 175.5L477.4 174.4L478.3 173.7L478.8 173.9L479.8 174.5L481.4 175.8L482.6 176.4L483.1 176.4L484.6 176.8L485.2 176.9L485.8 177.3L487.3 178.4L487.4 179.1L488.1 180.0L488.5 180.6L489.8 183.2L490.7 183.4L490.0 183.9L490.5 185.8L490.8 186.3L491.7 186.7L493.7 185.7L493.5 185.2L493.9 185.5L494.1 185.7L495.5 186.5L495.7 187.6L495.1 189.1L495.0 190.5L494.4 191.9L494.2 192.6L494.5 192.9L495.4 194.2L497.0 192.3L497.2 192.0L497.4 191.9L497.7 192.4L497.7 192.9L496.0 194.5L498.2 195.6L498.3 196.9L499.1 198.4L499.7 199.8L499.2 201.1L498.3 203.5L498.1 204.1L498.1 204.6L498.7 205.7L499.0 206.6L499.9 208.4L499.3 210.2L499.0 210.9L499.5 211.5L500.5 212.9L499.5 215.0L498.9 217.4L498.7 219.4ZM435.4 183.3L435.5 184.7L434.7 184.2L434.9 183.4L435.0 182.9L435.4 183.1Z"/>
<path fill="#19bfd9" fill-rule="evenodd" d="M493.7 213.3L493.2 215.4L492.8 216.2L491.7 216.9L491.9 218.4L491.7 220.0L491.8 221.1L492.0 222.1L491.5 222.7L491.2 223.8L490.0 225.0L488.7 226.4L489.2 228.5L489.5 228.8L489.3 229.9L489.1 230.7L488.7 231.6L486.9 233.2L486.6 233.5L487.0 235.6L486.9 237.2L486.5 237.9L486.4 238.4L486.2 239.2L485.4 239.9L484.3 241.8L484.3 241.9L483.8 243.8L483.2 245.2L481.7 246.7L480.9 247.0L480.0 248.4L479.5 249.2L478.4 250.6L477.7 251.0L476.6 251.7L475.2 253.4L474.8 254.0L473.4 256.0L473.3 256.0L471.6 255.6L470.9 256.3L469.6 257.0L468.1 257.7L467.6 257.9L466.7 259.1L466.3 259.4L466.2 259.5L463.0 260.8L462.6 261.9L462.5 262.2L462.2 262.3L459.6 263.7L458.5 264.5L458.3 264.6L458.0 264.6L455.9 264.7L455.3 264.9L453.6 266.0L452.7 267.4L452.5 267.9L450.9 268.7L450.4 269.1L450.2 269.1L448.1 269.9L447.0 271.0L446.7 271.2L446.2 271.5L445.5 270.9L444.4 270.5L443.9 270.4L443.0 270.8L441.4 271.4L440.3 273.3L439.8 274.0L439.2 274.2L438.4 273.6L438.4 271.5L438.7 271.1L438.2 271.0L438.1 271.0L437.9 271.1L436.7 272.5L434.5 273.3L434.2 273.2L433.7 273.7L432.8 275.2L431.1 275.4L430.5 275.9L428.3 274.9L427.7 274.6L426.0 275.3L425.3 275.4L423.5 274.4L421.9 274.4L421.6 274.5L420.7 275.1L419.5 276.0L418.7 277.1L417.2 277.2L416.7 276.3L415.6 276.0L415.0 275.6L413.7 276.2L413.4 276.7L412.8 276.7L410.0 276.5L409.7 276.3L408.4 275.7L408.2 275.6L408.1 275.6L404.5 276.0L404.2 275.7L401.9 275.5L401.5 275.7L400.9 275.7L398.9 275.8L398.3 275.4L397.6 275.0L396.1 274.0L395.9 273.9L393.2 273.1L392.9 273.0L393.0 273.1L391.1 274.1L389.5 274.2L389.2 273.6L389.1 272.1L390.0 271.9L389.3 271.0L388.5 271.0L388.3 271.6L388.0 273.1L385.8 272.2L384.7 270.8L384.7 270.7L384.6 270.6L384.7 270.7L385.7 269.9L386.2 269.5L385.6 269.1L385.0 269.0L382.6 268.5L382.3 268.5L380.5 268.1L379.8 267.0L379.2 266.4L378.6 266.6L376.4 266.9L375.8 266.4L374.2 265.0L373.3 264.5L373.4 262.3L373.5 262.2L371.6 261.1L370.3 260.9L369.8 260.9L369.6 260.7L367.4 258.7L366.4 258.1L366.2 258.0L364.9 256.6L364.7 256.4L364.4 256.1L362.5 254.5L361.1 253.1L360.9 252.9L360.4 252.7L359.0 251.6L358.5 250.9L357.7 248.6L357.2 248.1L355.9 247.4L354.8 246.9L354.4 246.8L354.1 246.5L353.1 244.8L351.2 242.9L351.0 242.4L350.3 240.5L350.0 239.9L349.2 237.3L349.1 237.1L349.0 236.9L348.8 236.7L347.3 235.8L346.3 235.2L345.8 235.0L345.0 234.8L342.8 234.7L342.6 233.0L343.3 232.6L343.9 230.7L343.2 229.0L342.8 228.5L342.5 227.4L342.3 226.1L342.2 225.7L341.9 224.0L341.9 223.9L341.9 223.6L342.2 221.4L340.8 219.9L340.7 219.6L339.4 218.0L339.4 217.9L340.2 215.4L339.8 212.8L339.7 212.4L339.6 211.8L339.9 210.3L339.2 209.2L339.3 208.3L339.5 207.3L340.2 206.2L340.0 205.1L340.3 204.1L341.7 202.5L341.6 201.8L341.9 201.3L341.8 200.3L342.0 198.9L342.0 198.1L341.7 196.7L342.6 195.2L343.4 194.5L344.4 192.3L344.4 192.2L345.5 191.5L346.6 190.8L346.5 188.4L346.4 188.0L346.5 187.7L346.7 187.6L348.2 186.4L349.3 186.1L349.5 185.9L351.3 184.3L351.5 184.1L353.3 182.3L353.7 181.5L354.3 181.3L353.5 179.6L353.6 178.9L353.6 178.7L353.8 178.6L355.2 178.8L356.8 179.9L357.7 179.5L359.6 179.1L360.1 179.1L360.9 179.9L362.3 179.5L363.4 178.9L364.2 178.4L365.0 178.4L365.7 179.4L366.5 180.1L367.5 180.5L368.2 180.6L369.8 180.8L371.2 181.4L371.8 181.6L373.0 181.2L373.6 180.2L374.9 179.3L375.2 180.9L375.5 181.2L376.1 181.1L376.8 180.6L377.9 179.8L379.6 179.5L379.7 179.5L379.8 179.5L379.8 179.6L379.8 180.8L380.9 182.1L382.7 182.7L382.8 182.7L384.0 182.0L385.1 180.7L386.2 181.8L387.4 183.2L387.3 183.2L387.4 183.2L387.5 183.2L390.1 183.4L390.2 183.4L391.2 185.1L391.3 185.2L393.2 187.5L394.9 188.3L395.1 188.4L395.3 188.6L396.8 190.6L398.7 191.5L400.6 191.1L401.4 191.8L402.8 192.2L403.3 193.4L404.5 194.3L405.1 194.5L405.3 194.9L407.2 195.3L408.5 197.0L408.5 197.8L409.3 197.5L411.1 197.5L411.3 197.6L413.9 196.4L414.2 196.3L414.3 196.3L415.8 197.5L418.2 196.0L419.8 196.0L421.5 196.4L422.4 196.2L422.9 196.6L424.4 196.5L426.1 196.1L427.0 195.3L427.5 194.1L429.2 194.2L430.2 194.0L431.0 193.8L432.0 193.7L432.9 192.9L433.9 191.8L435.1 189.5L435.5 189.3L435.8 189.3L436.7 189.8L436.4 191.5L436.4 192.1L436.7 192.1L436.8 192.0L438.1 190.2L439.1 189.9L439.0 188.1L439.3 187.5L439.3 187.4L439.5 187.3L442.2 186.6L443.4 186.3L444.0 186.6L444.8 185.3L446.0 184.4L446.6 183.8L447.8 184.2L448.4 184.6L448.9 183.8L450.4 183.0L452.1 181.7L452.0 181.6L452.2 181.6L454.8 181.1L456.3 181.6L458.2 182.8L458.3 182.8L458.5 182.8L460.0 182.5L461.9 181.7L462.6 181.3L464.5 181.5L465.0 181.3L467.4 181.7L467.7 181.7L467.9 181.6L469.4 179.6L471.0 179.5L471.8 179.7L473.1 180.3L474.7 180.0L476.7 179.6L476.8 179.6L476.9 179.6L476.8 179.8L477.0 181.4L477.2 182.0L478.0 182.0L479.8 182.5L480.7 182.8L481.6 182.3L484.3 182.8L484.5 182.9L485.3 184.8L485.4 185.0L485.6 185.0L487.6 185.3L487.8 185.7L488.8 187.5L489.1 187.6L490.6 190.4L490.7 190.5L491.1 192.5L491.7 193.5L492.5 194.5L492.6 195.3L492.9 197.3L493.3 198.0L493.7 198.9L493.4 199.1L492.8 201.9L493.8 202.5L494.5 203.9L494.1 205.8L491.7 206.4L491.7 206.5L491.7 206.6L492.1 208.5L493.2 209.4L493.7 210.7L493.8 213.0L493.7 213.1Z"/>
<path fill="#44bd86" fill-rule="evenodd" d="M407.0 258.8L405.6 258.6L403.9 260.3L403.7 260.4L403.6 260.5L403.3 260.3L401.0 259.3L400.0 258.3L399.3 258.2L399.0 257.9L397.5 258.0L396.8 257.6L394.3 256.9L393.9 255.7L393.8 255.7L393.7 255.7L391.5 257.2L389.9 256.8L389.1 255.9L388.8 255.7L387.9 255.6L385.2 254.9L384.6 254.8L383.7 254.8L381.5 254.0L380.2 254.0L379.2 254.1L378.5 253.7L378.2 253.4L376.7 251.4L376.0 250.5L375.8 250.1L375.1 248.9L374.0 248.1L372.5 247.4L372.1 247.5L372.0 247.2L370.2 246.1L368.9 243.9L368.8 242.8L368.3 243.7L366.2 243.6L365.3 242.1L364.9 241.8L363.3 239.7L363.1 239.5L363.1 239.4L362.2 237.7L362.1 236.9L360.7 235.7L360.0 235.1L358.7 235.2L358.6 235.3L358.6 235.2L356.1 234.2L354.9 233.4L354.5 232.8L353.9 230.7L353.7 229.9L353.3 228.5L352.5 227.4L352.0 226.6L352.5 225.0L350.9 224.8L349.9 224.0L350.4 222.4L350.6 221.8L349.9 220.9L348.7 219.4L348.5 219.1L348.3 218.9L347.8 217.9L347.3 217.4L347.1 215.9L347.1 214.5L346.3 213.6L346.1 212.8L345.9 211.0L345.6 210.8L345.7 210.3L345.5 208.4L345.5 207.8L345.5 205.7L345.6 204.7L345.3 203.1L346.0 201.6L346.4 200.8L344.2 198.6L344.2 198.5L344.1 198.1L344.4 198.4L347.3 198.0L348.2 196.5L348.1 195.4L348.7 194.7L348.3 192.7L350.5 190.8L353.3 189.8L353.4 189.7L354.9 189.1L356.7 187.8L356.8 187.8L357.3 186.3L357.6 185.9L358.3 185.8L360.1 184.8L361.2 184.5L361.8 184.5L363.6 183.9L364.3 184.1L365.9 185.6L366.8 185.9L367.8 187.1L369.1 186.7L370.0 186.7L372.1 187.7L373.6 186.2L373.7 186.2L373.9 186.2L375.7 186.7L377.1 187.2L377.8 187.3L378.5 188.1L379.7 189.0L381.1 190.0L381.2 190.1L381.3 192.2L382.1 192.7L382.7 193.3L384.5 193.0L385.9 193.0L387.3 193.5L388.5 195.1L387.6 195.5L387.0 196.6L387.9 197.5L388.5 197.5L390.2 197.4L390.7 197.7L392.4 198.5L393.2 199.2L393.8 200.0L395.2 200.5L395.5 200.7L396.0 200.6L397.8 201.2L398.2 201.6L398.5 201.9L399.3 203.1L399.3 203.6L399.8 204.0L400.2 203.9L401.5 204.7L403.1 205.5L403.5 205.5L405.7 206.1L405.8 206.0L405.9 206.3L408.1 207.5L410.1 207.2L410.8 207.0L412.2 207.3L413.4 207.5L414.7 207.8L415.6 207.4L417.1 207.8L418.9 206.6L419.0 206.3L419.1 206.3L419.9 205.1L421.3 205.1L422.8 204.5L422.7 205.8L423.6 206.6L423.9 206.4L424.7 205.8L424.4 205.0L423.6 204.2L424.9 203.9L425.5 203.5L428.7 203.5L428.8 203.5L430.6 202.7L431.6 201.1L432.2 200.4L433.0 199.9L433.2 199.8L435.9 199.4L436.1 197.5L436.6 196.3L438.1 194.8L438.4 194.8L438.6 194.5L440.5 194.2L441.7 192.5L442.0 192.4L443.2 191.3L444.6 190.7L445.0 190.3L445.7 190.5L447.0 189.3L447.9 188.8L448.1 188.5L449.6 187.8L450.3 187.4L453.4 188.3L455.1 187.9L456.2 187.5L458.0 187.5L458.3 187.7L460.5 187.5L460.9 187.6L462.2 188.0L463.7 188.5L464.2 188.6L464.5 188.3L466.4 187.2L467.5 187.2L469.8 186.8L470.8 187.0L471.4 187.4L472.3 187.6L473.8 188.2L474.3 188.4L475.2 187.7L475.5 187.0L477.4 186.8L478.7 187.3L478.8 187.4L478.9 187.4L480.6 189.1L481.9 190.6L482.2 190.8L482.5 190.9L485.1 191.3L486.7 191.8L487.2 192.1L487.4 192.3L487.6 193.3L486.5 194.9L487.3 196.3L487.7 197.0L488.3 197.7L488.7 197.8L490.0 200.3L490.2 201.1L489.6 201.9L488.6 202.7L488.5 204.0L488.4 205.0L488.2 206.0L487.9 207.3L487.6 208.2L486.6 210.6L486.6 210.7L487.7 211.9L487.7 212.3L487.6 212.4L486.9 213.5L486.3 214.2L485.9 214.6L484.3 215.9L484.1 217.2L483.8 218.3L483.5 219.7L483.6 220.8L483.8 221.2L483.6 223.0L483.6 224.1L483.5 224.2L482.7 225.8L481.1 228.3L481.1 228.4L480.0 230.2L479.6 230.9L479.8 231.7L479.9 232.9L479.6 233.7L478.6 234.4L477.7 234.6L476.1 236.1L475.1 236.1L475.4 236.9L473.9 238.1L472.7 239.8L472.3 240.1L471.4 240.2L471.8 240.9L471.6 241.7L471.0 242.2L470.1 242.9L468.8 242.5L468.7 242.3L468.7 242.5L468.6 242.5L466.8 243.9L466.6 244.5L465.3 246.4L465.0 246.7L464.2 247.8L463.4 248.8L461.8 248.6L461.3 248.7L460.4 249.2L459.9 249.6L458.8 251.0L458.4 251.2L457.9 252.1L456.9 252.9L455.5 253.2L454.8 253.3L454.3 253.7L452.5 254.6L450.8 255.3L450.0 255.4L449.4 257.6L449.2 257.9L448.8 258.0L445.8 257.3L445.6 257.3L443.6 257.0L442.8 255.9L442.2 255.5L439.8 255.7L439.7 255.8L439.1 257.2L436.1 258.2L436.0 258.2L435.5 258.3L433.7 258.8L432.5 258.8L431.9 259.0L429.4 260.0L427.8 257.8L427.7 257.7L427.6 257.7L427.4 257.8L426.1 258.5L425.0 258.5L423.8 257.3L423.2 256.9L422.4 256.7L421.5 257.6L420.7 258.9L420.0 258.3L417.8 257.6L416.1 258.6L416.1 260.0L415.3 258.6L414.2 258.0L412.6 257.3L411.7 256.9L410.4 258.0L410.1 258.2L409.6 258.2L408.0 258.5ZM490.1 195.4L489.4 196.0L489.6 195.3L489.7 194.8L490.0 195.2L490.1 195.3Z"/>
<path fill="#3db52e" fill-rule="evenodd" d="M373.4 235.5L372.6 234.8L371.7 233.5L370.6 234.0L368.7 235.6L368.0 236.1L367.6 236.0L367.5 235.8L366.4 234.3L366.0 233.2L365.2 231.6L364.7 231.2L364.0 229.7L363.1 229.0L362.3 227.9L361.8 226.2L361.1 225.4L360.1 224.0L360.8 222.0L360.7 221.8L360.7 221.5L360.0 219.4L359.9 218.7L358.8 217.1L358.3 216.5L356.7 214.6L357.1 213.1L357.3 212.5L356.3 211.7L356.0 210.7L355.0 208.8L354.8 208.4L354.7 208.2L353.5 208.3L353.2 206.2L353.2 203.2L353.2 203.1L353.4 202.9L354.5 201.7L354.5 201.5L356.0 200.3L356.8 199.8L356.8 197.9L356.8 197.7L356.9 197.5L357.3 197.2L358.3 197.4L359.1 197.4L359.4 197.3L362.2 196.9L363.4 198.4L363.8 198.7L364.1 197.0L364.9 196.4L366.6 196.1L367.9 195.6L369.4 195.8L370.7 196.1L372.3 196.2L373.0 194.3L373.0 194.2L373.1 194.2L373.4 194.3L375.5 196.2L376.1 197.1L377.6 197.6L378.1 197.7L379.5 197.1L380.6 198.6L381.3 199.1L381.8 199.5L383.2 200.8L383.6 201.8L384.1 203.9L384.4 204.0L384.2 204.0L384.4 205.6L384.8 206.1L385.5 206.4L387.8 206.9L388.6 207.1L389.6 207.6L390.0 208.0L390.6 209.6L391.4 210.5L392.5 211.2L394.8 212.7L394.8 212.8L394.4 214.7L395.6 215.4L396.2 216.0L397.1 216.0L399.1 216.3L399.8 216.2L400.5 216.9L402.0 218.8L402.1 220.0L402.0 220.8L401.3 221.8L400.7 222.9L400.2 223.9L400.8 224.5L402.1 226.3L402.3 226.5L402.5 226.8L402.7 227.3L403.5 228.0L403.5 228.2L403.9 228.4L405.5 229.2L405.7 229.2L408.4 228.3L408.7 228.4L410.4 229.5L412.1 229.8L413.5 228.9L414.0 228.7L416.1 229.7L417.2 229.5L419.5 229.0L419.9 229.1L420.8 229.9L421.6 229.6L422.0 229.0L423.5 226.3L424.5 225.7L424.1 224.4L423.8 224.0L422.3 223.3L422.4 222.0L422.6 220.2L423.2 219.3L423.8 218.9L424.2 218.7L426.1 217.9L426.7 217.3L427.5 215.7L427.6 215.6L429.3 214.4L429.8 212.9L430.5 212.4L431.0 212.1L432.8 211.5L434.6 211.0L435.0 210.8L437.5 210.3L437.7 210.4L437.7 210.2L438.6 209.5L439.2 209.1L439.4 208.7L440.2 206.0L442.5 206.1L442.7 206.1L442.9 205.9L443.1 204.9L443.3 204.1L443.3 202.7L443.6 204.0L446.2 202.9L446.9 201.0L447.2 199.6L447.5 199.0L448.3 197.2L450.2 197.2L451.0 196.8L453.2 196.7L453.5 196.7L454.0 196.4L453.7 195.9L453.4 195.4L453.7 194.9L454.2 195.0L454.9 195.1L456.0 195.7L457.5 196.1L458.5 196.3L458.5 196.8L459.5 197.4L460.8 197.7L462.8 196.9L463.4 196.2L464.0 196.4L464.9 195.7L466.2 195.5L467.7 196.9L468.3 197.2L468.7 197.4L468.8 197.1L470.3 196.1L471.6 196.0L472.7 196.5L473.3 196.6L475.7 196.8L476.5 196.5L476.4 197.2L477.0 198.4L477.0 199.1L477.6 199.9L478.6 201.4L478.7 201.5L481.4 203.1L481.5 204.2L481.5 205.0L481.1 206.0L481.1 207.5L481.1 208.3L481.0 209.1L480.2 211.0L479.6 211.9L477.8 212.8L477.5 212.8L477.1 213.2L477.3 213.6L477.2 214.9L477.6 216.6L477.9 217.4L477.5 218.0L476.7 220.0L476.4 220.4L475.8 220.8L474.4 221.1L474.2 221.9L473.5 223.5L472.6 224.2L471.8 225.0L470.9 225.1L470.1 225.7L469.8 226.2L469.7 227.1L469.7 228.7L469.2 230.4L468.7 230.6L467.6 231.2L466.6 232.5L465.9 232.7L465.3 233.2L465.0 234.4L464.8 234.7L462.6 236.2L462.2 237.1L462.3 238.4L462.3 239.5L461.9 239.7L461.6 239.7L460.8 239.3L460.5 238.2L459.6 237.5L458.7 236.8L458.2 237.3L456.0 236.6L454.9 235.2L454.8 234.9L454.4 234.9L453.9 235.3L453.2 236.8L452.7 237.5L452.7 237.7L452.4 237.8L451.3 239.0L450.3 239.5L449.7 240.0L448.7 241.1L447.5 241.1L446.0 242.2L444.6 242.3L444.3 244.3L443.9 245.2L442.9 245.3L442.0 245.2L440.6 246.0L440.4 246.2L440.2 246.2L440.0 246.1L440.2 245.8L440.1 243.9L439.2 243.0L437.9 242.8L436.1 242.8L435.1 242.0L434.8 241.7L433.3 240.1L433.2 239.9L433.0 239.8L432.4 240.0L431.7 240.5L430.9 240.2L430.6 239.9L428.9 238.9L428.3 239.1L426.3 239.4L425.7 239.6L425.3 239.8L423.4 239.6L423.3 239.6L423.1 239.5L420.6 238.8L419.8 238.0L419.7 237.8L418.9 237.3L417.2 236.4L416.6 236.8L413.9 237.4L413.7 237.6L413.3 237.5L413.4 238.7L413.6 239.4L413.4 239.8L412.5 241.8L411.7 242.2L411.0 242.3L409.1 243.4L407.4 243.5L406.2 242.6L406.0 242.5L403.7 242.3L403.4 242.3L400.9 241.5L400.8 241.5L400.7 241.4L400.6 241.1L400.9 241.3L403.3 241.4L403.2 239.9L402.8 239.0L402.0 239.1L399.9 239.6L397.8 236.9L397.7 236.8L397.6 236.7L397.5 236.8L397.4 237.0L396.5 238.4L395.4 238.5L394.8 237.8L393.8 237.0L393.3 237.2L392.7 237.5L392.2 239.3L392.0 240.2L391.8 240.6L391.2 240.7L390.8 240.6L388.6 239.9L387.5 239.1L386.6 238.8L386.1 238.9L383.7 239.7L382.9 237.3L382.5 236.7L382.0 236.4L380.5 237.9L380.5 238.0L380.2 238.0L378.2 238.9L377.2 237.9L375.6 238.5L374.8 238.6L374.4 237.8ZM480.5 200.3L478.8 201.2L479.2 199.7L479.9 199.5L480.1 199.5L480.4 199.7Z"/>
<path fill="#4dba2a" fill-rule="evenodd" d="M369.5 221.3L370.0 219.6L370.1 219.1L369.9 218.5L369.4 216.9L369.0 216.2L368.3 215.3L368.2 214.5L367.8 213.6L367.6 213.0L368.0 212.0L367.7 211.1L367.5 210.1L367.1 210.4L365.3 210.5L364.5 208.4L365.3 206.8L366.8 206.5L367.3 206.2L368.5 205.9L369.4 205.5L370.2 203.9L370.9 203.8L373.2 205.4L374.4 206.2L374.8 206.5L375.5 208.1L375.8 208.8L377.1 209.5L378.4 210.2L379.7 211.1L379.8 211.2L381.1 213.3L381.3 213.5L381.6 214.9L381.9 215.6L383.0 216.3L384.1 216.6L385.7 216.5L386.8 216.9L387.0 217.7L387.2 219.3L385.6 219.8L385.1 219.5L385.4 220.0L385.4 220.1L385.5 220.1L387.3 219.9L388.4 221.0L389.4 222.2L389.8 222.3L391.2 223.6L391.2 223.9L391.2 224.8L389.5 225.7L389.3 225.8L389.0 226.0L387.4 227.8L385.7 228.5L385.1 229.0L384.8 228.7L384.7 228.6L383.4 226.8L382.0 227.1L380.7 228.5L380.5 228.7L380.4 228.7L380.1 228.5L378.1 227.2L376.8 226.6L376.2 226.4L375.0 226.5L374.0 227.2L373.2 226.5L372.8 226.2L372.2 224.7L372.2 224.6L372.1 224.4L370.5 222.4ZM466.8 204.8L468.4 205.2L469.3 205.2L470.6 205.6L471.0 206.2L470.4 208.6L470.1 209.6L469.5 210.5L469.7 212.5L469.5 213.2L467.8 214.6L465.7 215.5L465.7 215.6L466.5 217.0L466.0 218.9L464.8 219.0L463.3 219.1L462.6 220.7L462.3 221.5L462.0 221.7L462.1 222.0L461.6 223.7L460.8 224.4L459.7 226.2L460.1 228.4L460.1 228.5L460.1 228.6L460.0 228.6L459.8 228.4L459.4 226.4L458.7 226.3L456.5 226.5L456.1 224.6L453.5 225.5L452.8 225.9L452.4 226.2L450.4 226.7L449.4 227.1L447.8 228.7L447.6 228.8L447.3 229.3L445.9 230.4L445.7 231.0L444.6 231.6L443.6 232.8L442.9 233.4L442.2 233.6L439.7 233.0L439.0 232.9L438.7 232.5L437.9 231.9L436.2 231.5L435.1 231.4L433.2 231.6L432.9 231.5L432.4 231.2L432.7 230.3L433.7 228.6L433.3 228.1L434.2 226.1L434.6 225.1L434.6 224.4L435.6 223.2L435.8 222.1L436.2 221.9L436.8 221.0L437.5 220.7L439.1 220.3L439.4 219.8L440.3 219.5L440.1 218.3L440.1 217.2L440.9 216.5L442.1 215.4L442.4 215.1L443.0 214.9L443.5 215.1L443.3 216.9L443.4 216.9L444.7 215.1L445.6 214.7L447.3 213.8L448.1 213.0L448.2 212.3L449.6 210.8L449.7 210.7L449.7 210.6L451.5 208.2L451.6 208.1L451.9 208.0L452.4 208.2L454.1 208.6L454.2 208.4L454.4 208.3L455.0 206.7L457.8 206.9L458.2 207.0L459.6 206.1L460.8 205.6L461.2 205.3L462.9 205.2L463.3 205.1L465.8 204.5Z"/>
</g>
<polygon points="344.6,193.3 380.7,193.3 381.2,194.7 404.8,223.3 428.9,223.3 453.0,201.7 453.0,193.3 489.1,193.3 489.1,199.5 430.3,260.7 404.8,260.7 345.3,201.2 344.6,199.5" fill="none" stroke="#ffffff" stroke-width="1.5" stroke-dasharray="5.65 5.42" stroke-linejoin="round"/>
<path d="M296.4 168.7 V313.6 H537.8" fill="none" stroke="#111" stroke-width="1"/>
<path d="M295.9 169.2 H537.3 V314.1" fill="none" stroke="#111" stroke-width="0.9"/>
<text x="293.8" y="171.2" font-size="5.7" fill="#444" text-anchor="end">0</text>
<text x="293.8" y="195.3" font-size="5.7" fill="#444" text-anchor="end">100</text>
<text x="293.8" y="219.3" font-size="5.7" fill="#444" text-anchor="end">200</text>
<text x="293.8" y="243.4" font-size="5.7" fill="#444" text-anchor="end">300</text>
<text x="293.8" y="267.5" font-size="5.7" fill="#444" text-anchor="end">400</text>
<text x="293.8" y="291.5" font-size="5.7" fill="#444" text-anchor="end">500</text>
<text x="293.8" y="315.6" font-size="5.7" fill="#444" text-anchor="end">600</text>
<text x="296.4" y="320.2" font-size="5.7" fill="#444" text-anchor="middle">0</text>
<text x="344.6" y="320.2" font-size="5.7" fill="#444" text-anchor="middle">200</text>
<text x="392.8" y="320.2" font-size="5.7" fill="#444" text-anchor="middle">400</text>
<text x="440.9" y="320.2" font-size="5.7" fill="#444" text-anchor="middle">600</text>
<text x="489.1" y="320.2" font-size="5.7" fill="#444" text-anchor="middle">800</text>
<text x="537.3" y="320.2" font-size="5.7" fill="#444" text-anchor="middle">1000</text>
<text x="416.8" y="326.1" font-size="7.4" font-weight="bold" fill="#111" text-anchor="middle">x(m)</text>
<text transform="translate(278.5 224.2) rotate(-90)" font-size="6.7" fill="#1a1a1a" stroke="#1a1a1a" stroke-width="0.12" letter-spacing="0.2" text-anchor="middle">z(m)</text>
<text x="302.0" y="309.7" font-size="11.0" fill="#ffffff" letter-spacing="0.55">(d)</text>
<rect x="85.70" y="329.0" width="7.58" height="9.9" fill="#324a92"/>
<rect x="92.88" y="329.0" width="0.35" height="9.9" fill="#000" fill-opacity="0.22"/>
<rect x="92.98" y="329.0" width="14.85" height="9.9" fill="#3b66ab"/>
<rect x="107.43" y="329.0" width="0.35" height="9.9" fill="#000" fill-opacity="0.22"/>
<rect x="107.53" y="329.0" width="14.85" height="9.9" fill="#19bfd9"/>
<rect x="121.98" y="329.0" width="0.35" height="9.9" fill="#000" fill-opacity="0.22"/>
<rect x="122.08" y="329.0" width="14.85" height="9.9" fill="#44bd86"/>
<rect x="136.53" y="329.0" width="0.35" height="9.9" fill="#000" fill-opacity="0.22"/>
<rect x="136.62" y="329.0" width="14.85" height="9.9" fill="#3db52e"/>
<rect x="151.08" y="329.0" width="0.35" height="9.9" fill="#000" fill-opacity="0.22"/>
<rect x="151.18" y="329.0" width="14.85" height="9.9" fill="#4dba2a"/>
<rect x="165.63" y="329.0" width="0.35" height="9.9" fill="#000" fill-opacity="0.22"/>
<rect x="165.73" y="329.0" width="14.85" height="9.9" fill="#93c81f"/>
<rect x="180.18" y="329.0" width="0.35" height="9.9" fill="#000" fill-opacity="0.22"/>
<rect x="180.28" y="329.0" width="14.85" height="9.9" fill="#ffde00"/>
<rect x="194.73" y="329.0" width="0.35" height="9.9" fill="#000" fill-opacity="0.22"/>
<rect x="194.83" y="329.0" width="14.85" height="9.9" fill="#ff7f1e"/>
<rect x="209.28" y="329.0" width="0.35" height="9.9" fill="#000" fill-opacity="0.22"/>
<rect x="209.38" y="329.0" width="7.28" height="9.9" fill="#ff2a2a"/>
<text x="92.7" y="347.9" font-size="6.8" fill="#262626" text-anchor="middle">0.1</text>
<text x="107.2" y="347.9" font-size="6.8" fill="#262626" text-anchor="middle">0.2</text>
<text x="121.8" y="347.9" font-size="6.8" fill="#262626" text-anchor="middle">0.3</text>
<text x="136.3" y="347.9" font-size="6.8" fill="#262626" text-anchor="middle">0.4</text>
<text x="150.9" y="347.9" font-size="6.8" fill="#262626" text-anchor="middle">0.5</text>
<text x="165.4" y="347.9" font-size="6.8" fill="#262626" text-anchor="middle">0.6</text>
<text x="180.0" y="347.9" font-size="6.8" fill="#262626" text-anchor="middle">0.7</text>
<text x="194.5" y="347.9" font-size="6.8" fill="#262626" text-anchor="middle">0.8</text>
<text x="209.1" y="347.9" font-size="6.8" fill="#262626" text-anchor="middle">0.9</text>
<text x="82.7" y="336.5" font-size="6.8" fill="#262626" text-anchor="end">ρ(g/cm<tspan dy="-2.4" font-size="3.8">3</tspan><tspan dy="2.4">)</tspan></text>
<rect x="355.20" y="329.0" width="7.58" height="9.9" fill="#324a92"/>
<rect x="362.37" y="329.0" width="0.35" height="9.9" fill="#000" fill-opacity="0.22"/>
<rect x="362.47" y="329.0" width="14.85" height="9.9" fill="#3b66ab"/>
<rect x="376.92" y="329.0" width="0.35" height="9.9" fill="#000" fill-opacity="0.22"/>
<rect x="377.02" y="329.0" width="14.85" height="9.9" fill="#19bfd9"/>
<rect x="391.47" y="329.0" width="0.35" height="9.9" fill="#000" fill-opacity="0.22"/>
<rect x="391.57" y="329.0" width="14.85" height="9.9" fill="#44bd86"/>
<rect x="406.02" y="329.0" width="0.35" height="9.9" fill="#000" fill-opacity="0.22"/>
<rect x="406.12" y="329.0" width="14.85" height="9.9" fill="#3db52e"/>
<rect x="420.57" y="329.0" width="0.35" height="9.9" fill="#000" fill-opacity="0.22"/>
<rect x="420.68" y="329.0" width="14.85" height="9.9" fill="#4dba2a"/>
<rect x="435.12" y="329.0" width="0.35" height="9.9" fill="#000" fill-opacity="0.22"/>
<rect x="435.23" y="329.0" width="14.85" height="9.9" fill="#93c81f"/>
<rect x="449.68" y="329.0" width="0.35" height="9.9" fill="#000" fill-opacity="0.22"/>
<rect x="449.78" y="329.0" width="14.85" height="9.9" fill="#ffde00"/>
<rect x="464.23" y="329.0" width="0.35" height="9.9" fill="#000" fill-opacity="0.22"/>
<rect x="464.33" y="329.0" width="14.85" height="9.9" fill="#ff7f1e"/>
<rect x="478.78" y="329.0" width="0.35" height="9.9" fill="#000" fill-opacity="0.22"/>
<rect x="478.88" y="329.0" width="7.28" height="9.9" fill="#ff2a2a"/>
<text x="362.2" y="347.9" font-size="6.8" fill="#262626" text-anchor="middle">0.1</text>
<text x="376.7" y="347.9" font-size="6.8" fill="#262626" text-anchor="middle">0.2</text>
<text x="391.3" y="347.9" font-size="6.8" fill="#262626" text-anchor="middle">0.3</text>
<text x="405.8" y="347.9" font-size="6.8" fill="#262626" text-anchor="middle">0.4</text>
<text x="420.4" y="347.9" font-size="6.8" fill="#262626" text-anchor="middle">0.5</text>
<text x="434.9" y="347.9" font-size="6.8" fill="#262626" text-anchor="middle">0.6</text>
<text x="449.5" y="347.9" font-size="6.8" fill="#262626" text-anchor="middle">0.7</text>
<text x="464.0" y="347.9" font-size="6.8" fill="#262626" text-anchor="middle">0.8</text>
<text x="478.6" y="347.9" font-size="6.8" fill="#262626" text-anchor="middle">0.9</text>
<text x="352.4" y="336.5" font-size="6.8" fill="#262626" text-anchor="end">ρ(g/cm<tspan dy="-2.4" font-size="3.8">3</tspan><tspan dy="2.4">)</tspan></text>
</svg>
</body></html>
